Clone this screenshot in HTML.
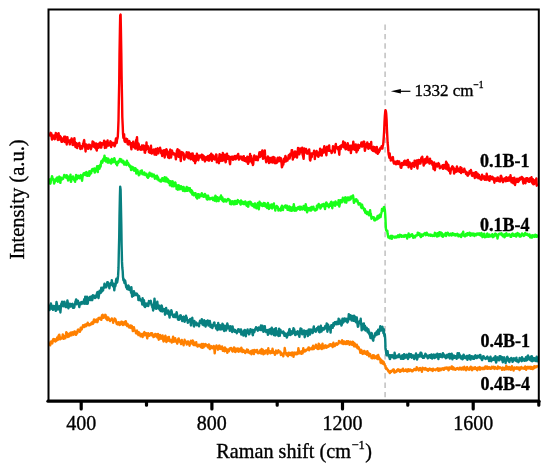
<!DOCTYPE html>
<html><head><meta charset="utf-8"><style>
html,body{margin:0;padding:0;background:#fff;}
body{width:550px;height:468px;overflow:hidden;}
svg{display:block;}
text{font-family:"Liberation Serif","Times New Roman",serif;fill:#000;stroke:#000;stroke-width:0.35px;}
.b{font-weight:bold;font-size:18px;}
</style></head><body>
<svg width="550" height="468" viewBox="0 0 550 468">
<rect width="550" height="468" fill="#fff"/>
<line x1="385.1" y1="24.5" x2="385.1" y2="398" stroke="#c4c4c4" stroke-width="1.6" stroke-dasharray="5.42 4"/>
<g fill="none" stroke-width="2.4" stroke-linejoin="round" stroke-linecap="round">
<path d="M49.5 134.7L49.9 135.4 50.2 134.1 50.6 132.8 50.9 133.6 51.3 133.3 51.6 136.6 52.0 139.6 52.3 135.9 52.7 135.4 53.0 138.3 53.4 138.6 53.7 137.6 54.1 135.5 54.4 137.8 54.8 139.2 55.1 135.1 55.5 135.6 55.8 133.0 56.2 133.6 56.5 133.6 56.9 136.9 57.2 136.2 57.6 139.5 57.9 140.0 58.3 138.0 58.6 133.2 59.0 137.2 59.3 139.6 59.7 139.4 60.0 136.0 60.4 137.5 60.7 136.9 61.1 138.0 61.4 141.7 61.8 138.4 62.1 139.8 62.5 141.7 62.8 138.7 63.2 139.2 63.5 139.9 63.9 139.2 64.2 136.6 64.6 139.8 64.9 142.1 65.3 136.8 65.6 140.8 66.0 139.9 66.3 139.0 66.7 144.5 67.0 141.9 67.4 137.2 67.7 139.7 68.1 141.3 68.4 140.3 68.8 141.9 69.1 141.1 69.5 143.1 69.8 144.4 70.2 140.3 70.5 141.1 70.9 140.4 71.2 141.0 71.6 138.5 71.9 139.7 72.3 141.7 72.6 144.9 73.0 145.0 73.3 139.4 73.7 140.4 74.0 143.0 74.4 138.2 74.7 141.0 75.1 143.6 75.4 147.0 75.8 146.0 76.1 143.4 76.5 143.0 76.8 144.4 77.2 148.1 77.5 144.5 77.9 144.3 78.2 146.0 78.6 145.3 78.9 144.5 79.3 142.9 79.6 145.0 80.0 145.5 80.3 149.0 80.7 148.2 81.0 146.7 81.4 147.5 81.7 146.1 82.1 148.5 82.4 146.9 82.8 146.9 83.1 143.4 83.5 145.4 83.8 141.1 84.2 140.1 84.5 143.9 84.9 143.9 85.2 147.4 85.6 151.5 85.9 145.2 86.3 144.6 86.6 147.0 87.0 147.9 87.3 146.4 87.7 146.6 88.0 148.8 88.4 148.1 88.7 144.7 89.1 146.4 89.4 146.7 89.8 144.8 90.1 146.8 90.5 145.7 90.8 149.2 91.2 148.2 91.5 147.1 91.9 145.6 92.2 145.4 92.6 141.4 92.9 143.3 93.3 146.1 93.6 142.3 94.0 146.9 94.3 143.3 94.7 147.2 95.0 145.4 95.4 148.2 95.7 146.5 96.1 143.4 96.4 149.4 96.8 150.5 97.1 146.6 97.5 145.3 97.8 144.9 98.2 143.9 98.5 147.7 98.9 144.9 99.2 144.7 99.6 143.2 99.9 142.8 100.3 142.5 100.6 147.6 101.0 146.0 101.3 147.5 101.7 145.3 102.0 143.1 102.4 143.5 102.7 143.3 103.1 144.4 103.4 143.7 103.8 143.1 104.1 140.7 104.5 142.8 104.8 148.0 105.2 143.3 105.5 141.9 105.9 145.7 106.2 147.6 106.6 141.7 106.9 143.1 107.3 142.2 107.6 140.5 108.0 145.7 108.3 145.2 108.7 144.6 109.0 143.3 109.4 145.3 109.7 143.7 110.1 143.6 110.4 141.3 110.8 141.8 111.1 147.0 111.5 144.1 111.8 144.9 112.2 144.2 112.5 142.8 112.9 142.9 113.2 145.1 113.6 143.3 113.9 143.1 114.3 144.0 114.6 146.4 115.0 145.3 115.3 143.5 115.7 140.2 116.0 138.4 116.4 143.1 116.7 142.9 117.1 139.4 117.4 138.8 117.8 136.5 118.1 130.9 118.5 120.3 118.8 102.7 119.2 82.2 119.5 54.2 119.9 31.0 120.2 15.4 120.6 14.5 120.9 29.0 121.3 52.5 121.6 75.7 122.0 97.1 122.3 117.0 122.7 125.4 123.0 133.3 123.4 138.0 123.7 134.1 124.1 134.1 124.4 140.4 124.8 141.6 125.1 141.4 125.5 141.9 125.8 139.8 126.2 138.7 126.5 141.5 126.9 140.0 127.2 139.2 127.6 144.0 127.9 144.2 128.3 144.4 128.6 141.5 129.0 141.5 129.3 141.0 129.7 141.8 130.0 144.1 130.4 143.0 130.7 145.4 131.1 146.9 131.4 149.4 131.8 143.1 132.1 146.5 132.5 145.5 132.8 144.5 133.2 141.6 133.5 144.0 133.9 147.2 134.2 145.9 134.6 145.8 134.9 145.8 135.3 148.6 135.6 145.4 136.0 140.3 136.3 142.3 136.7 139.4 137.0 137.1 137.4 144.2 137.7 149.7 138.1 146.9 138.4 143.5 138.8 144.6 139.1 149.4 139.5 148.2 139.8 147.4 140.2 147.2 140.5 147.9 140.9 149.8 141.2 149.5 141.6 147.9 141.9 145.5 142.3 148.1 142.6 147.0 143.0 149.6 143.3 145.4 143.7 147.1 144.0 147.4 144.4 145.9 144.7 152.6 145.1 152.7 145.4 148.5 145.8 150.4 146.1 148.5 146.5 142.5 146.8 147.9 147.2 148.8 147.5 148.5 147.9 146.2 148.2 147.7 148.6 149.1 148.9 152.2 149.3 150.7 149.6 150.3 150.0 152.9 150.3 148.7 150.7 147.3 151.0 145.8 151.4 153.1 151.7 153.5 152.1 153.0 152.4 152.2 152.8 150.8 153.1 150.6 153.5 149.6 153.8 149.7 154.2 151.2 154.5 154.6 154.9 152.7 155.2 150.5 155.6 149.0 155.9 149.8 156.3 154.8 156.6 153.2 157.0 151.4 157.3 149.8 157.7 148.3 158.0 151.1 158.4 153.3 158.7 150.9 159.1 150.7 159.4 151.0 159.8 151.0 160.1 147.8 160.5 149.9 160.8 150.1 161.2 153.3 161.5 150.9 161.9 153.9 162.2 156.0 162.6 151.9 162.9 150.6 163.3 152.4 163.6 151.9 164.0 150.1 164.3 154.1 164.7 157.5 165.0 152.8 165.4 151.3 165.7 150.0 166.1 152.2 166.4 149.2 166.8 150.0 167.1 154.8 167.5 151.8 167.8 155.8 168.2 157.4 168.5 154.7 168.9 155.5 169.2 158.1 169.6 153.3 169.9 150.9 170.3 149.6 170.6 153.4 171.0 157.5 171.3 156.0 171.7 151.2 172.0 150.6 172.4 152.0 172.7 154.0 173.1 153.4 173.4 154.3 173.8 154.5 174.1 153.3 174.5 153.8 174.8 154.4 175.2 154.2 175.5 156.3 175.9 159.4 176.2 156.8 176.6 153.9 176.9 150.5 177.3 153.5 177.6 149.2 178.0 150.5 178.3 156.4 178.7 156.8 179.0 153.9 179.4 150.4 179.7 152.7 180.1 153.4 180.4 157.5 180.8 161.1 181.1 156.5 181.5 152.8 181.8 152.0 182.2 154.5 182.5 154.4 182.9 152.6 183.2 154.6 183.6 153.4 183.9 158.4 184.3 159.6 184.6 158.8 185.0 155.6 185.3 156.9 185.7 155.8 186.0 154.9 186.4 154.4 186.7 152.1 187.1 152.4 187.4 157.4 187.8 156.5 188.1 157.4 188.5 158.2 188.8 152.4 189.2 153.9 189.5 156.9 189.9 157.6 190.2 156.6 190.6 159.3 190.9 157.3 191.3 153.6 191.6 154.5 192.0 158.8 192.3 157.7 192.7 153.5 193.0 159.9 193.4 160.2 193.7 160.8 194.1 157.0 194.4 156.0 194.8 156.0 195.1 163.2 195.5 159.4 195.8 161.2 196.2 157.1 196.5 157.0 196.9 153.6 197.2 156.6 197.6 159.5 197.9 156.0 198.3 160.2 198.6 158.9 199.0 155.4 199.3 156.1 199.7 156.7 200.0 157.5 200.4 156.4 200.7 155.7 201.1 156.5 201.4 154.9 201.8 154.6 202.1 158.0 202.5 159.7 202.8 155.1 203.2 157.3 203.5 156.3 203.9 156.2 204.2 159.8 204.6 158.5 204.9 161.5 205.3 157.6 205.6 159.0 206.0 157.8 206.3 156.9 206.7 159.6 207.0 158.9 207.4 160.1 207.7 158.3 208.1 156.0 208.4 157.9 208.8 159.3 209.1 160.7 209.5 157.0 209.8 157.3 210.2 154.9 210.5 159.0 210.9 155.6 211.2 153.8 211.6 158.4 211.9 160.8 212.3 155.1 212.6 155.0 213.0 155.9 213.3 156.0 213.7 158.9 214.0 156.8 214.4 157.1 214.7 159.6 215.1 157.6 215.4 159.1 215.8 156.2 216.1 154.5 216.5 154.8 216.8 162.4 217.2 159.3 217.5 159.4 217.9 159.1 218.2 159.4 218.6 160.2 218.9 163.2 219.3 156.6 219.6 154.1 220.0 155.0 220.3 155.6 220.7 160.6 221.0 160.9 221.4 156.3 221.7 154.9 222.1 158.1 222.4 160.7 222.8 153.0 223.1 158.2 223.5 157.2 223.8 160.4 224.2 156.7 224.5 156.9 224.9 154.6 225.2 156.5 225.6 162.3 225.9 161.5 226.3 158.0 226.6 155.6 227.0 153.6 227.3 157.0 227.7 158.7 228.0 158.7 228.4 158.1 228.7 156.1 229.1 158.2 229.4 159.5 229.8 163.1 230.1 164.2 230.5 159.2 230.8 157.0 231.2 158.1 231.5 157.1 231.9 156.8 232.2 157.9 232.6 156.7 232.9 159.9 233.3 159.2 233.6 159.5 234.0 158.3 234.3 156.6 234.7 156.1 235.0 157.6 235.4 157.7 235.7 159.3 236.1 158.4 236.4 155.7 236.8 157.8 237.1 155.5 237.5 156.7 237.8 157.0 238.2 153.9 238.5 158.4 238.9 159.6 239.2 158.7 239.6 158.0 239.9 157.7 240.3 156.6 240.6 157.9 241.0 158.0 241.3 158.8 241.7 156.7 242.0 159.6 242.4 160.0 242.7 159.1 243.1 158.8 243.4 159.9 243.8 156.1 244.1 160.1 244.5 160.8 244.8 160.9 245.2 160.6 245.5 158.3 245.9 159.3 246.2 161.6 246.6 161.5 246.9 160.0 247.3 156.7 247.6 161.2 248.0 163.8 248.3 163.3 248.7 160.4 249.0 156.9 249.4 161.6 249.7 159.0 250.1 154.0 250.4 159.0 250.8 156.0 251.1 155.9 251.5 158.6 251.8 162.7 252.2 159.9 252.5 161.3 252.9 165.1 253.2 164.4 253.6 159.9 253.9 158.0 254.3 155.5 254.6 156.7 255.0 159.6 255.3 159.7 255.7 159.3 256.0 160.1 256.4 156.4 256.7 157.5 257.1 159.5 257.4 159.6 257.8 160.2 258.1 158.3 258.5 156.4 258.8 156.9 259.2 153.4 259.5 152.3 259.9 157.0 260.2 156.8 260.6 156.3 260.9 152.3 261.3 154.4 261.6 154.4 262.0 152.9 262.3 150.4 262.7 155.1 263.0 158.9 263.4 157.8 263.7 155.4 264.1 156.8 264.4 157.2 264.8 150.4 265.1 155.4 265.5 158.6 265.8 159.9 266.2 162.2 266.5 161.0 266.9 158.7 267.2 158.6 267.6 159.1 267.9 156.4 268.3 157.5 268.6 160.8 269.0 163.0 269.3 158.5 269.7 158.0 270.0 159.5 270.4 162.0 270.7 160.3 271.1 162.2 271.4 157.7 271.8 158.6 272.1 159.7 272.5 162.6 272.8 162.6 273.2 156.9 273.5 157.9 273.9 160.9 274.2 158.8 274.6 157.6 274.9 163.2 275.3 163.2 275.6 162.4 276.0 160.7 276.3 163.1 276.7 161.3 277.0 162.7 277.4 158.3 277.7 157.8 278.1 159.7 278.4 158.6 278.8 161.2 279.1 160.1 279.5 157.4 279.8 159.0 280.2 159.2 280.5 161.3 280.9 158.3 281.2 159.0 281.6 163.8 281.9 167.3 282.3 166.4 282.6 161.7 283.0 162.0 283.3 164.6 283.7 160.9 284.0 158.6 284.4 161.1 284.7 161.9 285.1 158.5 285.4 155.9 285.8 156.9 286.1 161.2 286.5 158.8 286.8 159.4 287.2 160.4 287.5 160.6 287.9 158.5 288.2 158.8 288.6 155.6 288.9 155.4 289.3 154.7 289.6 158.6 290.0 156.2 290.3 153.7 290.7 154.0 291.0 154.6 291.4 155.3 291.7 150.1 292.1 150.2 292.4 153.3 292.8 159.6 293.1 156.4 293.5 153.1 293.8 155.0 294.2 157.3 294.5 152.2 294.9 151.4 295.2 154.9 295.6 154.0 295.9 153.5 296.3 152.0 296.6 157.3 297.0 157.6 297.3 154.8 297.7 153.1 298.0 148.0 298.4 152.7 298.7 152.5 299.1 153.8 299.4 154.3 299.8 151.3 300.1 148.5 300.5 152.4 300.8 151.0 301.2 151.3 301.5 151.1 301.9 150.6 302.2 147.8 302.6 155.0 302.9 155.0 303.3 157.2 303.6 158.8 304.0 153.5 304.3 148.5 304.7 149.7 305.0 149.8 305.4 151.7 305.7 152.5 306.1 149.0 306.4 152.7 306.8 150.4 307.1 153.7 307.5 153.6 307.8 153.0 308.2 153.3 308.5 152.2 308.9 151.3 309.2 149.5 309.6 154.0 309.9 159.6 310.3 160.6 310.6 158.7 311.0 156.1 311.3 153.4 311.7 157.1 312.0 154.5 312.4 153.6 312.7 153.2 313.1 153.7 313.4 152.8 313.8 152.8 314.1 150.8 314.5 153.4 314.8 159.1 315.2 154.6 315.5 153.3 315.9 155.1 316.2 155.0 316.6 151.0 316.9 152.8 317.3 155.7 317.6 154.6 318.0 154.6 318.3 156.8 318.7 152.4 319.0 152.7 319.4 152.6 319.7 155.4 320.1 148.6 320.4 150.0 320.8 151.5 321.1 154.5 321.5 155.3 321.8 155.6 322.2 149.8 322.5 153.3 322.9 151.7 323.2 150.7 323.6 152.6 323.9 148.9 324.3 146.1 324.6 149.0 325.0 147.5 325.3 149.4 325.7 152.2 326.0 153.2 326.4 155.2 326.7 150.7 327.1 146.7 327.4 147.7 327.8 147.5 328.1 147.4 328.5 150.7 328.8 148.1 329.2 145.5 329.5 150.9 329.9 150.5 330.2 151.0 330.6 150.8 330.9 151.6 331.3 151.0 331.6 153.1 332.0 151.7 332.3 151.1 332.7 150.1 333.0 146.1 333.4 148.2 333.7 148.8 334.1 149.0 334.4 146.9 334.8 152.6 335.1 149.6 335.5 145.2 335.8 144.0 336.2 147.3 336.5 148.1 336.9 147.1 337.2 148.3 337.6 147.5 337.9 149.3 338.3 147.1 338.6 148.6 339.0 152.2 339.3 154.7 339.7 147.0 340.0 146.2 340.4 146.3 340.7 149.0 341.1 145.4 341.4 146.2 341.8 147.1 342.1 145.0 342.5 144.7 342.8 145.0 343.2 141.5 343.5 142.7 343.9 145.9 344.2 147.6 344.6 146.1 344.9 142.7 345.3 145.7 345.6 149.3 346.0 149.0 346.3 146.8 346.7 145.2 347.0 147.8 347.4 145.3 347.7 143.3 348.1 145.1 348.4 150.1 348.8 148.7 349.1 149.5 349.5 146.6 349.8 148.4 350.2 145.6 350.5 147.2 350.9 153.1 351.2 149.5 351.6 145.7 351.9 146.2 352.3 147.9 352.6 149.4 353.0 145.0 353.3 141.7 353.7 144.8 354.0 146.3 354.4 147.4 354.7 149.8 355.1 148.3 355.4 147.9 355.8 144.5 356.1 149.0 356.5 152.3 356.8 149.4 357.2 147.3 357.5 147.7 357.9 150.2 358.2 144.7 358.6 145.6 358.9 147.5 359.3 147.9 359.6 145.5 360.0 146.3 360.3 145.4 360.7 145.8 361.0 144.7 361.4 142.5 361.7 145.0 362.1 146.6 362.4 142.6 362.8 143.6 363.1 145.1 363.5 141.7 363.8 143.1 364.2 141.7 364.5 146.9 364.9 150.8 365.2 149.5 365.6 144.4 365.9 145.3 366.3 144.4 366.6 145.0 367.0 147.3 367.3 142.4 367.7 146.5 368.0 146.0 368.4 148.7 368.7 146.2 369.1 144.2 369.4 146.6 369.8 148.1 370.1 147.1 370.5 147.6 370.8 144.7 371.2 142.0 371.5 148.8 371.9 149.9 372.2 148.7 372.6 148.9 372.9 150.7 373.3 147.7 373.6 146.8 374.0 148.9 374.3 151.4 374.7 147.3 375.0 151.5 375.4 148.2 375.7 147.5 376.1 152.6 376.4 150.0 376.8 146.9 377.1 149.4 377.5 153.3 377.8 153.8 378.2 150.4 378.5 151.8 378.9 152.3 379.2 149.5 379.6 150.8 379.9 149.8 380.3 148.0 380.6 147.7 381.0 148.6 381.3 148.0 381.7 146.1 382.0 146.3 382.4 148.6 382.7 146.1 383.1 144.9 383.4 142.0 383.8 136.7 384.1 131.9 384.5 122.2 384.8 116.7 385.2 111.8 385.5 110.3 385.9 111.3 386.2 113.6 386.6 119.6 386.9 128.5 387.3 136.5 387.6 142.7 388.0 146.5 388.3 151.2 388.7 154.5 389.0 155.7 389.4 157.7 389.7 153.4 390.1 158.0 390.4 157.1 390.8 160.5 391.1 159.0 391.5 157.9 391.8 160.0 392.2 158.1 392.5 157.4 392.9 157.0 393.2 160.3 393.6 162.5 393.9 163.5 394.3 162.0 394.6 163.6 395.0 162.1 395.3 161.8 395.7 163.5 396.0 164.3 396.4 161.7 396.7 161.4 397.1 161.8 397.4 162.0 397.8 161.0 398.1 164.1 398.5 162.4 398.8 163.1 399.2 161.5 399.5 163.5 399.9 163.8 400.2 163.4 400.6 167.5 400.9 165.9 401.3 167.9 401.6 166.3 402.0 162.9 402.3 163.3 402.7 165.2 403.0 164.9 403.4 164.8 403.7 163.5 404.1 161.1 404.4 162.9 404.8 160.6 405.1 164.6 405.5 163.5 405.8 163.3 406.2 164.5 406.5 165.0 406.9 161.5 407.2 160.4 407.6 161.2 407.9 160.0 408.3 162.9 408.6 167.4 409.0 163.8 409.3 165.3 409.7 162.5 410.0 164.8 410.4 164.3 410.7 164.8 411.1 166.7 411.4 168.7 411.8 165.9 412.1 164.5 412.5 162.9 412.8 165.2 413.2 164.5 413.5 165.9 413.9 165.3 414.2 166.8 414.6 160.6 414.9 162.9 415.3 165.4 415.6 163.1 416.0 161.7 416.3 161.9 416.7 160.4 417.0 163.8 417.4 168.5 417.7 165.7 418.1 160.4 418.4 159.9 418.8 161.4 419.1 163.6 419.5 160.4 419.8 160.4 420.2 163.6 420.5 163.6 420.9 160.7 421.2 158.4 421.6 157.4 421.9 158.3 422.3 156.7 422.6 161.5 423.0 160.4 423.3 162.6 423.7 165.6 424.0 163.7 424.4 159.5 424.7 162.7 425.1 163.4 425.4 159.6 425.8 158.7 426.1 159.8 426.5 158.5 426.8 162.5 427.2 156.6 427.5 158.1 427.9 160.5 428.2 161.3 428.6 162.3 428.9 162.6 429.3 162.4 429.6 163.6 430.0 158.6 430.3 161.3 430.7 161.3 431.0 162.9 431.4 163.1 431.7 161.2 432.1 162.0 432.4 165.0 432.8 164.5 433.1 163.5 433.5 168.9 433.8 169.1 434.2 162.5 434.5 165.6 434.9 170.2 435.2 167.5 435.6 165.6 435.9 164.4 436.3 163.8 436.6 164.3 437.0 164.5 437.3 166.6 437.7 164.9 438.0 164.1 438.4 163.1 438.7 164.9 439.1 164.1 439.4 165.8 439.8 168.3 440.1 167.6 440.5 167.6 440.8 167.3 441.2 166.6 441.5 166.1 441.9 166.2 442.2 167.5 442.6 165.3 442.9 168.9 443.3 167.0 443.6 165.0 444.0 165.2 444.3 165.3 444.7 166.6 445.0 166.0 445.4 168.6 445.7 164.9 446.1 161.8 446.4 163.8 446.8 162.8 447.1 166.7 447.5 169.6 447.8 168.4 448.2 164.6 448.5 166.1 448.9 170.8 449.2 168.9 449.6 168.2 449.9 170.8 450.3 173.6 450.6 171.5 451.0 168.9 451.3 169.1 451.7 169.4 452.0 167.0 452.4 166.2 452.7 168.0 453.1 167.0 453.4 168.6 453.8 170.3 454.1 173.6 454.5 168.8 454.8 169.0 455.2 169.6 455.5 171.1 455.9 172.0 456.2 169.2 456.6 167.8 456.9 166.5 457.3 168.2 457.6 171.2 458.0 170.5 458.3 168.7 458.7 169.7 459.0 171.0 459.4 171.7 459.7 170.1 460.1 169.8 460.4 167.3 460.8 169.1 461.1 173.1 461.5 168.0 461.8 170.2 462.2 171.8 462.5 170.8 462.9 170.1 463.2 171.4 463.6 171.9 463.9 171.1 464.3 168.6 464.6 170.8 465.0 170.4 465.3 171.0 465.7 172.7 466.0 173.9 466.4 174.1 466.7 172.3 467.1 174.5 467.4 175.5 467.8 175.7 468.1 175.6 468.5 173.1 468.8 172.9 469.2 173.9 469.5 171.1 469.9 172.9 470.2 172.3 470.6 171.9 470.9 170.0 471.3 171.4 471.6 173.7 472.0 175.7 472.3 176.0 472.7 174.3 473.0 173.6 473.4 173.0 473.7 174.8 474.1 174.6 474.4 176.3 474.8 178.0 475.1 175.0 475.5 172.3 475.8 172.7 476.2 172.2 476.5 173.4 476.9 177.4 477.2 176.0 477.6 173.7 477.9 176.9 478.3 178.2 478.6 175.8 479.0 174.9 479.3 175.7 479.7 177.0 480.0 178.1 480.4 179.2 480.7 179.5 481.1 179.6 481.4 179.7 481.8 178.0 482.1 174.7 482.5 176.5 482.8 177.5 483.2 177.0 483.5 178.5 483.9 176.8 484.2 176.3 484.6 179.7 484.9 179.2 485.3 178.5 485.6 179.6 486.0 179.9 486.3 177.8 486.7 173.7 487.0 175.8 487.4 176.6 487.7 176.3 488.1 178.4 488.4 179.9 488.8 177.3 489.1 176.8 489.5 180.9 489.8 177.7 490.2 176.1 490.5 178.3 490.9 178.8 491.2 177.5 491.6 179.1 491.9 177.5 492.3 176.7 492.6 178.6 493.0 179.4 493.3 177.7 493.7 178.6 494.0 179.3 494.4 182.7 494.7 178.7 495.1 180.4 495.4 178.8 495.8 178.5 496.1 179.9 496.5 180.6 496.8 180.9 497.2 179.2 497.5 177.4 497.9 177.6 498.2 179.3 498.6 180.1 498.9 181.1 499.3 180.1 499.6 181.0 500.0 181.5 500.3 178.9 500.7 175.9 501.0 175.7 501.4 176.5 501.7 180.5 502.1 178.4 502.4 180.7 502.8 180.8 503.1 182.2 503.5 181.1 503.8 179.0 504.2 178.6 504.5 179.1 504.9 179.2 505.2 178.3 505.6 179.4 505.9 181.2 506.3 177.1 506.6 178.7 507.0 178.0 507.3 179.6 507.7 180.8 508.0 179.9 508.4 180.1 508.7 177.5 509.1 180.5 509.4 179.2 509.8 180.4 510.1 179.2 510.5 175.3 510.8 177.6 511.2 180.3 511.5 182.4 511.9 180.9 512.2 179.8 512.6 178.2 512.9 182.3 513.3 183.3 513.6 180.6 514.0 179.1 514.3 177.6 514.7 181.9 515.0 185.0 515.4 182.7 515.7 182.6 516.1 181.2 516.4 179.3 516.8 181.7 517.1 178.7 517.5 179.6 517.8 181.0 518.2 182.0 518.5 181.5 518.9 180.9 519.2 178.9 519.6 178.1 519.9 179.9 520.3 178.9 520.6 177.7 521.0 177.9 521.3 178.7 521.7 176.9 522.0 177.2 522.4 177.6 522.7 180.5 523.1 182.0 523.4 183.5 523.8 178.7 524.1 179.4 524.5 181.8 524.8 180.5 525.2 180.7 525.5 183.2 525.9 180.4 526.2 178.3 526.6 178.3 526.9 180.9 527.3 180.9 527.6 178.3 528.0 178.9 528.3 181.5 528.7 181.7 529.0 180.2 529.4 181.8 529.7 181.4 530.1 178.1 530.4 179.9 530.8 181.3 531.1 179.5 531.5 177.3 531.8 180.1 532.2 182.8 532.5 183.2 532.9 179.1 533.2 184.3 533.6 180.7 533.9 182.9 534.3 184.0 534.6 183.5 535.0 181.7 535.3 179.9 535.7 182.0 536.0 179.8 536.4 178.4 536.7 185.7 537.1 184.6 537.4 185.1" stroke="#ff0000"/>
<path d="M49.5 179.4L49.9 182.8 50.2 183.7 50.6 183.2 50.9 180.4 51.3 178.4 51.6 178.9 52.0 176.3 52.3 177.0 52.7 179.6 53.0 178.8 53.4 179.7 53.7 180.7 54.1 183.6 54.4 182.8 54.8 180.9 55.1 181.6 55.5 179.1 55.8 179.5 56.2 180.7 56.5 178.1 56.9 178.4 57.2 177.5 57.6 179.8 57.9 181.7 58.3 178.8 58.6 179.1 59.0 177.5 59.3 176.6 59.7 177.2 60.0 181.4 60.4 182.9 60.7 179.9 61.1 177.8 61.4 179.1 61.8 178.3 62.1 179.4 62.5 178.9 62.8 178.8 63.2 178.8 63.5 177.1 63.9 176.5 64.2 174.9 64.6 176.1 64.9 175.4 65.3 176.7 65.6 176.2 66.0 177.6 66.3 177.8 66.7 175.3 67.0 175.5 67.4 176.1 67.7 178.9 68.1 180.6 68.4 179.3 68.8 177.8 69.1 179.3 69.5 176.4 69.8 179.5 70.2 176.6 70.5 174.6 70.9 181.9 71.2 181.3 71.6 177.5 71.9 178.5 72.3 178.5 72.6 178.4 73.0 176.4 73.3 177.4 73.7 179.3 74.0 179.6 74.4 180.6 74.7 179.8 75.1 181.8 75.4 178.1 75.8 177.8 76.1 174.9 76.5 175.9 76.8 179.2 77.2 177.0 77.5 178.1 77.9 177.3 78.2 175.7 78.6 176.3 78.9 176.2 79.3 176.4 79.6 178.2 80.0 177.9 80.3 175.8 80.7 175.1 81.0 176.6 81.4 176.6 81.7 178.6 82.1 180.7 82.4 178.0 82.8 175.9 83.1 175.0 83.5 173.7 83.8 173.2 84.2 173.0 84.5 173.6 84.9 173.9 85.2 175.0 85.6 173.5 85.9 172.8 86.3 172.0 86.6 175.4 87.0 174.8 87.3 175.8 87.7 174.8 88.0 174.7 88.4 172.5 88.7 173.9 89.1 175.8 89.4 171.1 89.8 173.5 90.1 174.6 90.5 172.8 90.8 172.9 91.2 173.1 91.5 170.5 91.9 171.0 92.2 169.3 92.6 169.0 92.9 169.2 93.3 169.9 93.6 170.5 94.0 170.2 94.3 168.4 94.7 172.6 95.0 172.1 95.4 170.6 95.7 168.7 96.1 168.8 96.4 169.6 96.8 168.7 97.1 166.1 97.5 169.7 97.8 172.1 98.2 166.2 98.5 168.6 98.9 168.3 99.2 167.6 99.6 168.7 99.9 165.3 100.3 166.1 100.6 166.6 101.0 163.0 101.3 161.2 101.7 161.2 102.0 160.9 102.4 162.7 102.7 159.9 103.1 160.9 103.4 158.6 103.8 160.5 104.1 158.9 104.5 155.6 104.8 158.4 105.2 157.8 105.5 159.1 105.9 161.5 106.2 158.1 106.6 158.2 106.9 161.7 107.3 161.0 107.6 162.5 108.0 160.7 108.3 158.8 108.7 160.2 109.0 162.5 109.4 162.2 109.7 160.8 110.1 160.6 110.4 160.3 110.8 160.4 111.1 163.6 111.5 161.1 111.8 159.0 112.2 160.1 112.5 162.2 112.9 162.3 113.2 160.9 113.6 160.1 113.9 160.5 114.3 158.2 114.6 159.0 115.0 162.0 115.3 161.1 115.7 162.3 116.0 163.8 116.4 163.0 116.7 162.6 117.1 165.2 117.4 163.3 117.8 161.7 118.1 163.0 118.5 162.5 118.8 160.7 119.2 161.7 119.5 161.1 119.9 158.9 120.2 161.1 120.6 161.5 120.9 160.9 121.3 159.5 121.6 161.2 122.0 162.3 122.3 162.2 122.7 161.0 123.0 162.8 123.4 160.9 123.7 162.5 124.1 164.6 124.4 162.2 124.8 162.4 125.1 164.6 125.5 163.0 125.8 163.0 126.2 164.4 126.5 165.0 126.9 160.8 127.2 162.1 127.6 162.5 127.9 162.7 128.3 163.3 128.6 164.0 129.0 165.7 129.3 164.8 129.7 166.4 130.0 167.0 130.4 165.9 130.7 167.6 131.1 170.0 131.4 168.4 131.8 166.9 132.1 167.4 132.5 166.9 132.8 168.9 133.2 169.8 133.5 167.8 133.9 168.9 134.2 170.8 134.6 169.2 134.9 169.6 135.3 168.2 135.6 168.4 136.0 170.0 136.3 173.6 136.7 170.7 137.0 169.9 137.4 170.1 137.7 171.2 138.1 172.6 138.4 172.9 138.8 175.2 139.1 173.6 139.5 174.7 139.8 173.6 140.2 173.3 140.5 170.9 140.9 172.4 141.2 173.0 141.6 172.3 141.9 170.5 142.3 174.2 142.6 173.4 143.0 173.2 143.3 173.6 143.7 174.0 144.0 174.6 144.4 172.5 144.7 173.0 145.1 175.0 145.4 175.1 145.8 174.3 146.1 173.9 146.5 173.8 146.8 175.4 147.2 176.9 147.5 174.9 147.9 177.9 148.2 177.4 148.6 175.7 148.9 176.5 149.3 173.5 149.6 172.7 150.0 173.6 150.3 175.2 150.7 175.7 151.0 175.7 151.4 176.0 151.7 173.7 152.1 176.5 152.4 174.7 152.8 175.5 153.1 175.9 153.5 174.9 153.8 174.5 154.2 175.4 154.5 177.4 154.9 178.7 155.2 178.4 155.6 176.2 155.9 176.0 156.3 176.4 156.6 177.8 157.0 175.6 157.3 179.3 157.7 177.7 158.0 177.2 158.4 179.1 158.7 180.4 159.1 179.9 159.4 180.6 159.8 179.9 160.1 181.3 160.5 181.4 160.8 180.0 161.2 181.6 161.5 180.2 161.9 179.5 162.2 178.2 162.6 179.3 162.9 180.6 163.3 178.5 163.6 180.8 164.0 181.1 164.3 180.2 164.7 177.2 165.0 180.0 165.4 181.4 165.7 179.9 166.1 180.1 166.4 177.7 166.8 181.3 167.1 180.9 167.5 182.0 167.8 179.3 168.2 182.1 168.5 182.0 168.9 182.9 169.2 180.8 169.6 181.8 169.9 185.4 170.3 181.8 170.6 181.3 171.0 181.9 171.3 181.8 171.7 185.3 172.0 186.2 172.4 182.5 172.7 181.3 173.1 185.5 173.4 186.4 173.8 186.3 174.1 186.2 174.5 183.7 174.8 183.9 175.2 182.4 175.5 182.9 175.9 186.2 176.2 185.6 176.6 189.1 176.9 186.6 177.3 185.5 177.6 187.9 178.0 189.7 178.3 187.6 178.7 185.3 179.0 187.7 179.4 189.3 179.7 186.8 180.1 186.5 180.4 189.0 180.8 188.0 181.1 186.2 181.5 186.9 181.8 187.1 182.2 188.7 182.5 189.2 182.9 190.7 183.2 189.8 183.6 187.0 183.9 189.5 184.3 190.9 184.6 190.7 185.0 191.1 185.3 188.8 185.7 188.5 186.0 190.7 186.4 188.0 186.7 186.9 187.1 190.9 187.4 189.6 187.8 189.4 188.1 188.1 188.5 188.0 188.8 188.7 189.2 190.3 189.5 191.0 189.9 188.3 190.2 191.6 190.6 189.8 190.9 190.1 191.3 192.7 191.6 191.8 192.0 190.6 192.3 194.6 192.7 192.1 193.0 193.1 193.4 193.9 193.7 195.3 194.1 193.5 194.4 194.7 194.8 193.3 195.1 195.2 195.5 193.2 195.8 194.1 196.2 197.3 196.5 195.7 196.9 195.8 197.2 198.5 197.6 196.1 197.9 194.3 198.3 195.8 198.6 194.2 199.0 197.3 199.3 197.6 199.7 195.0 200.0 194.7 200.4 195.9 200.7 195.7 201.1 194.7 201.4 196.0 201.8 193.1 202.1 194.8 202.5 195.4 202.8 195.9 203.2 196.4 203.5 194.9 203.9 196.9 204.2 196.2 204.6 195.1 204.9 194.0 205.3 194.6 205.6 196.6 206.0 195.4 206.3 196.9 206.7 198.8 207.0 199.3 207.4 199.6 207.7 196.7 208.1 195.6 208.4 198.4 208.8 198.3 209.1 198.9 209.5 197.9 209.8 199.3 210.2 199.2 210.5 198.8 210.9 198.4 211.2 198.2 211.6 197.9 211.9 198.2 212.3 198.9 212.6 197.6 213.0 200.0 213.3 198.3 213.7 199.1 214.0 197.8 214.4 198.0 214.7 200.7 215.1 197.6 215.4 195.6 215.8 196.3 216.1 197.9 216.5 201.3 216.8 199.4 217.2 199.3 217.5 197.1 217.9 198.7 218.2 200.0 218.6 201.1 218.9 198.1 219.3 199.3 219.6 198.9 220.0 197.2 220.3 198.2 220.7 197.6 221.0 195.4 221.4 199.2 221.7 199.8 222.1 198.1 222.4 197.4 222.8 201.1 223.1 200.5 223.5 201.4 223.8 201.7 224.2 199.4 224.5 200.5 224.9 199.5 225.2 199.5 225.6 199.6 225.9 200.2 226.3 201.6 226.6 200.5 227.0 199.8 227.3 199.8 227.7 200.3 228.0 198.9 228.4 199.3 228.7 200.0 229.1 199.6 229.4 200.0 229.8 200.3 230.1 204.0 230.5 203.6 230.8 202.0 231.2 201.7 231.5 204.4 231.9 202.3 232.2 201.2 232.6 201.8 232.9 202.3 233.3 203.6 233.6 202.5 234.0 204.4 234.3 201.1 234.7 202.1 235.0 201.0 235.4 204.1 235.7 201.9 236.1 202.0 236.4 203.8 236.8 203.9 237.1 200.7 237.5 200.8 237.8 200.1 238.2 202.0 238.5 202.2 238.9 201.7 239.2 201.2 239.6 201.5 239.9 201.6 240.3 203.8 240.6 204.6 241.0 200.4 241.3 202.0 241.7 202.5 242.0 203.4 242.4 201.8 242.7 202.3 243.1 201.9 243.4 204.1 243.8 203.7 244.1 203.4 244.5 204.0 244.8 202.8 245.2 201.4 245.5 204.2 245.9 204.4 246.2 204.0 246.6 205.7 246.9 205.8 247.3 202.5 247.6 203.0 248.0 206.7 248.3 206.6 248.7 203.2 249.0 202.0 249.4 202.8 249.7 202.9 250.1 201.8 250.4 203.5 250.8 202.1 251.1 202.6 251.5 205.3 251.8 203.8 252.2 204.5 252.5 205.8 252.9 206.0 253.2 204.5 253.6 204.4 253.9 204.1 254.3 207.4 254.6 206.0 255.0 203.4 255.3 204.8 255.7 206.1 256.0 206.5 256.4 208.3 256.7 207.5 257.1 204.6 257.4 204.3 257.8 203.1 258.1 205.1 258.5 206.3 258.8 209.3 259.2 205.5 259.5 201.8 259.9 203.5 260.2 204.7 260.6 203.0 260.9 203.4 261.3 204.5 261.6 205.6 262.0 204.9 262.3 204.2 262.7 206.1 263.0 204.6 263.4 204.0 263.7 202.9 264.1 204.0 264.4 205.7 264.8 203.2 265.1 205.1 265.5 206.5 265.8 205.3 266.2 205.5 266.5 204.5 266.9 207.7 267.2 207.9 267.6 205.9 267.9 202.9 268.3 204.0 268.6 207.6 269.0 208.9 269.3 207.4 269.7 207.8 270.0 205.5 270.4 205.7 270.7 206.3 271.1 206.5 271.4 204.5 271.8 207.9 272.1 208.5 272.5 204.9 272.8 204.4 273.2 206.7 273.5 205.3 273.9 203.5 274.2 207.6 274.6 207.5 274.9 207.3 275.3 210.5 275.6 208.1 276.0 206.4 276.3 207.2 276.7 205.9 277.0 206.3 277.4 207.9 277.7 207.0 278.1 207.6 278.4 210.6 278.8 210.1 279.1 209.6 279.5 209.2 279.8 209.4 280.2 210.4 280.5 209.0 280.9 210.5 281.2 207.1 281.6 206.8 281.9 205.7 282.3 207.2 282.6 209.1 283.0 210.1 283.3 207.4 283.7 207.6 284.0 207.2 284.4 206.3 284.7 205.9 285.1 207.1 285.4 205.4 285.8 207.5 286.1 207.8 286.5 206.6 286.8 205.7 287.2 206.1 287.5 209.9 287.9 207.0 288.2 210.0 288.6 209.2 288.9 207.2 289.3 206.4 289.6 209.7 290.0 210.6 290.3 206.9 290.7 207.5 291.0 209.5 291.4 209.4 291.7 210.9 292.1 207.9 292.4 208.1 292.8 206.9 293.1 210.4 293.5 206.8 293.8 204.3 294.2 206.9 294.5 208.3 294.9 210.7 295.2 208.0 295.6 208.0 295.9 209.3 296.3 210.5 296.6 208.7 297.0 209.6 297.3 208.9 297.7 207.6 298.0 207.9 298.4 207.7 298.7 206.9 299.1 209.0 299.4 206.6 299.8 209.5 300.1 209.7 300.5 207.8 300.8 206.6 301.2 207.5 301.5 208.8 301.9 209.3 302.2 209.0 302.6 209.4 302.9 207.6 303.3 207.7 303.6 206.0 304.0 208.8 304.3 208.5 304.7 208.0 305.0 210.1 305.4 208.7 305.7 204.2 306.1 207.0 306.4 206.5 306.8 210.3 307.1 212.3 307.5 208.4 307.8 208.3 308.2 208.2 308.5 209.1 308.9 210.0 309.2 210.3 309.6 207.9 309.9 210.3 310.3 207.7 310.6 209.0 311.0 210.6 311.3 209.6 311.7 207.0 312.0 206.9 312.4 207.4 312.7 208.5 313.1 209.6 313.4 206.8 313.8 208.6 314.1 209.3 314.5 209.2 314.8 209.3 315.2 210.5 315.5 209.3 315.9 209.4 316.2 209.4 316.6 209.9 316.9 205.6 317.3 208.7 317.6 207.3 318.0 206.5 318.3 205.1 318.7 203.9 319.0 205.7 319.4 206.0 319.7 207.0 320.1 205.3 320.4 208.6 320.8 207.6 321.1 206.2 321.5 205.2 321.8 204.8 322.2 204.4 322.5 205.3 322.9 206.2 323.2 205.6 323.6 204.0 323.9 205.1 324.3 204.8 324.6 206.7 325.0 209.1 325.3 207.4 325.7 205.1 326.0 202.8 326.4 202.5 326.7 202.9 327.1 205.9 327.4 204.7 327.8 205.1 328.1 204.5 328.5 205.7 328.8 207.2 329.2 204.5 329.5 204.1 329.9 204.0 330.2 205.7 330.6 203.2 330.9 202.3 331.3 201.8 331.6 202.2 332.0 205.6 332.3 208.2 332.7 204.0 333.0 205.5 333.4 204.5 333.7 202.4 334.1 203.1 334.4 203.2 334.8 203.3 335.1 205.8 335.5 201.4 335.8 203.6 336.2 203.8 336.5 202.6 336.9 203.5 337.2 204.5 337.6 203.6 337.9 203.7 338.3 203.2 338.6 200.2 339.0 204.8 339.3 206.6 339.7 204.8 340.0 203.5 340.4 200.1 340.7 200.9 341.1 200.2 341.4 200.7 341.8 202.4 342.1 200.2 342.5 199.9 342.8 197.8 343.2 199.8 343.5 200.3 343.9 199.0 344.2 199.4 344.6 202.2 344.9 198.2 345.3 197.3 345.6 198.2 346.0 201.5 346.3 202.7 346.7 199.8 347.0 197.6 347.4 197.9 347.7 199.4 348.1 197.5 348.4 200.2 348.8 200.3 349.1 198.3 349.5 198.6 349.8 199.2 350.2 199.6 350.5 196.6 350.9 198.8 351.2 197.1 351.6 196.5 351.9 197.7 352.3 197.5 352.6 196.2 353.0 195.4 353.3 197.2 353.7 201.5 354.0 202.9 354.4 201.5 354.7 201.7 355.1 199.7 355.4 200.3 355.8 200.8 356.1 199.2 356.5 199.5 356.8 201.4 357.2 201.1 357.5 200.6 357.9 202.6 358.2 202.8 358.6 204.5 358.9 203.6 359.3 203.3 359.6 204.0 360.0 203.9 360.3 203.5 360.7 204.6 361.0 206.8 361.4 207.7 361.7 208.1 362.1 204.7 362.4 206.2 362.8 207.2 363.1 208.2 363.5 207.9 363.8 208.4 364.2 210.6 364.5 210.1 364.9 209.1 365.2 212.7 365.6 212.9 365.9 211.3 366.3 212.8 366.6 211.9 367.0 214.1 367.3 212.9 367.7 212.1 368.0 212.8 368.4 213.0 368.7 214.7 369.1 215.3 369.4 215.2 369.8 213.5 370.1 210.1 370.5 214.5 370.8 213.7 371.2 216.8 371.5 218.9 371.9 217.9 372.2 217.0 372.6 217.4 372.9 217.7 373.3 217.3 373.6 217.2 374.0 217.5 374.3 220.4 374.7 219.6 375.0 220.4 375.4 218.9 375.7 218.8 376.1 218.5 376.4 219.3 376.8 219.5 377.1 218.1 377.5 216.1 377.8 216.0 378.2 218.6 378.5 216.1 378.9 215.6 379.2 217.8 379.6 217.2 379.9 215.4 380.3 214.2 380.6 217.0 381.0 214.4 381.3 213.3 381.7 211.4 382.0 208.9 382.4 208.7 382.7 210.8 383.1 210.7 383.4 209.1 383.8 207.2 384.1 207.0 384.5 208.9 384.8 209.4 385.2 214.0 385.5 219.6 385.9 228.7 386.2 230.4 386.6 230.7 386.9 231.4 387.3 230.6 387.6 233.8 388.0 235.7 388.3 237.4 388.7 237.6 389.0 237.6 389.4 237.3 389.7 237.9 390.1 238.3 390.4 236.1 390.8 236.0 391.1 235.8 391.5 238.6 391.8 238.8 392.2 237.8 392.5 236.0 392.9 236.9 393.2 236.8 393.6 237.0 393.9 236.9 394.3 237.3 394.6 236.8 395.0 237.7 395.3 237.2 395.7 236.6 396.0 236.5 396.4 236.5 396.7 237.4 397.1 236.7 397.4 236.9 397.8 236.0 398.1 235.3 398.5 237.0 398.8 235.9 399.2 237.1 399.5 236.7 399.9 234.7 400.2 235.1 400.6 235.6 400.9 235.3 401.3 235.2 401.6 236.8 402.0 236.4 402.3 236.6 402.7 236.0 403.0 236.4 403.4 235.6 403.7 236.2 404.1 236.8 404.4 236.3 404.8 235.5 405.1 235.0 405.5 236.1 405.8 236.4 406.2 235.7 406.5 235.3 406.9 236.9 407.2 238.5 407.6 236.3 407.9 236.3 408.3 235.8 408.6 233.4 409.0 235.3 409.3 235.5 409.7 237.0 410.0 235.7 410.4 234.9 410.7 235.4 411.1 235.7 411.4 235.2 411.8 235.2 412.1 234.2 412.5 235.2 412.8 236.7 413.2 237.8 413.5 236.7 413.9 236.1 414.2 236.9 414.6 237.0 414.9 237.5 415.3 236.7 415.6 235.5 416.0 235.5 416.3 235.5 416.7 235.6 417.0 235.3 417.4 234.0 417.7 232.7 418.1 233.5 418.4 232.9 418.8 234.7 419.1 234.7 419.5 233.5 419.8 235.5 420.2 236.0 420.5 235.6 420.9 237.1 421.2 236.9 421.6 234.4 421.9 235.8 422.3 235.7 422.6 235.6 423.0 235.8 423.3 234.2 423.7 234.0 424.0 233.8 424.4 233.9 424.7 234.3 425.1 233.1 425.4 233.6 425.8 235.2 426.1 234.9 426.5 234.8 426.8 232.8 427.2 233.5 427.5 234.0 427.9 234.5 428.2 234.4 428.6 235.5 428.9 234.9 429.3 234.7 429.6 234.9 430.0 235.3 430.3 234.6 430.7 235.8 431.0 235.4 431.4 234.9 431.7 234.8 432.1 235.4 432.4 236.0 432.8 235.9 433.1 235.4 433.5 235.6 433.8 235.2 434.2 235.9 434.5 234.4 434.9 232.8 435.2 235.5 435.6 234.7 435.9 233.4 436.3 233.9 436.6 234.1 437.0 236.6 437.3 235.2 437.7 233.2 438.0 234.7 438.4 234.7 438.7 236.1 439.1 233.4 439.4 232.1 439.8 234.0 440.1 234.1 440.5 233.6 440.8 232.4 441.2 234.8 441.5 235.9 441.9 233.2 442.2 235.1 442.6 234.7 442.9 236.8 443.3 235.4 443.6 234.6 444.0 235.7 444.3 235.1 444.7 234.2 445.0 235.0 445.4 233.8 445.7 233.0 446.1 236.1 446.4 234.5 446.8 233.9 447.1 234.4 447.5 232.7 447.8 232.7 448.2 233.6 448.5 233.9 448.9 234.7 449.2 235.5 449.6 234.4 449.9 235.0 450.3 235.0 450.6 233.6 451.0 234.3 451.3 233.8 451.7 235.5 452.0 235.2 452.4 234.3 452.7 233.2 453.1 234.2 453.4 233.9 453.8 235.0 454.1 234.4 454.5 233.9 454.8 235.4 455.2 235.3 455.5 234.3 455.9 235.5 456.2 234.4 456.6 234.2 456.9 234.4 457.3 233.7 457.6 233.9 458.0 234.6 458.3 236.3 458.7 236.3 459.0 234.9 459.4 236.0 459.7 234.9 460.1 235.1 460.4 235.5 460.8 235.5 461.1 237.0 461.5 235.0 461.8 233.6 462.2 235.5 462.5 234.3 462.9 233.5 463.2 231.7 463.6 235.0 463.9 235.7 464.3 235.7 464.6 236.0 465.0 236.4 465.3 235.0 465.7 235.3 466.0 233.9 466.4 234.2 466.7 235.6 467.1 234.8 467.4 233.3 467.8 234.5 468.1 234.2 468.5 233.7 468.8 234.7 469.2 233.9 469.5 232.6 469.9 233.4 470.2 235.7 470.6 233.4 470.9 234.5 471.3 235.3 471.6 235.0 472.0 233.4 472.3 234.0 472.7 234.8 473.0 235.2 473.4 233.8 473.7 233.5 474.1 235.5 474.4 236.0 474.8 235.0 475.1 234.1 475.5 234.9 475.8 235.0 476.2 235.2 476.5 233.6 476.9 234.4 477.2 234.3 477.6 233.5 477.9 234.6 478.3 234.6 478.6 234.3 479.0 234.7 479.3 233.3 479.7 234.4 480.0 235.2 480.4 235.3 480.7 235.6 481.1 233.4 481.4 233.0 481.8 234.8 482.1 235.7 482.5 237.1 482.8 235.7 483.2 234.2 483.5 235.2 483.9 233.8 484.2 233.7 484.6 237.2 484.9 235.9 485.3 235.8 485.6 236.0 486.0 236.9 486.3 235.8 486.7 235.9 487.0 233.8 487.4 233.6 487.7 236.4 488.1 236.8 488.4 235.8 488.8 235.3 489.1 235.0 489.5 234.6 489.8 236.5 490.2 236.1 490.5 235.7 490.9 235.7 491.2 236.2 491.6 235.9 491.9 235.6 492.3 234.1 492.6 235.7 493.0 237.2 493.3 234.9 493.7 235.0 494.0 236.1 494.4 236.3 494.7 235.5 495.1 233.7 495.4 234.9 495.8 233.8 496.1 234.1 496.5 235.4 496.8 235.0 497.2 236.5 497.5 238.5 497.9 236.7 498.2 235.8 498.6 234.2 498.9 234.0 499.3 233.8 499.6 234.1 500.0 233.7 500.3 234.1 500.7 234.5 501.0 233.7 501.4 233.2 501.7 233.5 502.1 235.3 502.4 235.5 502.8 236.3 503.1 236.3 503.5 235.1 503.8 235.4 504.2 234.3 504.5 237.3 504.9 236.7 505.2 234.9 505.6 234.0 505.9 234.8 506.3 233.2 506.6 234.1 507.0 235.7 507.3 235.2 507.7 234.9 508.0 235.7 508.4 234.4 508.7 235.1 509.1 234.5 509.4 234.3 509.8 235.2 510.1 234.7 510.5 236.7 510.8 235.4 511.2 236.8 511.5 234.6 511.9 235.3 512.2 233.8 512.6 233.6 512.9 235.2 513.3 235.6 513.6 234.3 514.0 235.9 514.3 234.7 514.7 235.2 515.0 235.7 515.4 235.5 515.7 233.9 516.1 236.6 516.4 236.0 516.8 234.7 517.1 233.7 517.5 233.0 517.8 233.6 518.2 235.4 518.5 234.8 518.9 233.9 519.2 234.8 519.6 236.6 519.9 235.1 520.3 234.9 520.6 236.6 521.0 236.0 521.3 235.3 521.7 234.4 522.0 233.4 522.4 233.7 522.7 234.5 523.1 235.1 523.4 235.8 523.8 236.0 524.1 235.7 524.5 235.4 524.8 234.0 525.2 232.9 525.5 234.2 525.9 234.2 526.2 234.5 526.6 234.7 526.9 233.9 527.3 234.0 527.6 235.1 528.0 235.4 528.3 235.0 528.7 235.8 529.0 235.2 529.4 234.4 529.7 235.7 530.1 237.3 530.4 235.5 530.8 236.9 531.1 237.5 531.5 237.2 531.8 235.5 532.2 237.5 532.5 236.1 532.9 235.3 533.2 235.5 533.6 236.2 533.9 235.8 534.3 235.8 534.6 236.8 535.0 235.0 535.3 234.7 535.7 236.4 536.0 236.8 536.4 236.8 536.7 235.1 537.1 236.7 537.4 236.5" stroke="#19ff19"/>
<path d="M49.5 310.1L49.9 305.5 50.2 306.9 50.6 305.9 50.9 303.4 51.3 305.4 51.6 308.7 52.0 306.2 52.3 305.7 52.7 308.8 53.0 309.8 53.4 309.1 53.7 305.9 54.1 307.1 54.4 309.0 54.8 306.2 55.1 306.1 55.5 309.7 55.8 310.9 56.2 305.3 56.5 301.9 56.9 303.8 57.2 305.7 57.6 308.0 57.9 309.6 58.3 308.1 58.6 307.0 59.0 307.8 59.3 306.1 59.7 306.9 60.0 307.2 60.4 312.5 60.7 309.1 61.1 304.6 61.4 303.5 61.8 303.7 62.1 301.7 62.5 302.9 62.8 303.8 63.2 306.4 63.5 304.3 63.9 302.8 64.2 301.6 64.6 302.1 64.9 304.4 65.3 305.1 65.6 307.0 66.0 304.7 66.3 307.0 66.7 306.0 67.0 304.3 67.4 300.4 67.7 301.9 68.1 306.5 68.4 308.2 68.8 306.3 69.1 306.4 69.5 304.2 69.8 303.7 70.2 303.8 70.5 306.6 70.9 305.8 71.2 304.3 71.6 304.2 71.9 305.8 72.3 305.2 72.6 303.8 73.0 307.8 73.3 305.8 73.7 305.2 74.0 307.8 74.4 306.9 74.7 304.6 75.1 304.6 75.4 301.7 75.8 301.0 76.1 299.4 76.5 304.2 76.8 300.4 77.2 303.5 77.5 301.4 77.9 300.8 78.2 302.5 78.6 303.8 78.9 305.2 79.3 307.1 79.6 304.9 80.0 304.7 80.3 302.6 80.7 304.3 81.0 303.5 81.4 302.1 81.7 302.6 82.1 302.9 82.4 303.5 82.8 303.6 83.1 301.8 83.5 301.5 83.8 303.2 84.2 299.2 84.5 301.0 84.9 303.7 85.2 296.7 85.6 299.1 85.9 301.4 86.3 298.8 86.6 303.8 87.0 296.7 87.3 302.3 87.7 303.7 88.0 301.8 88.4 299.4 88.7 299.4 89.1 297.8 89.4 299.7 89.8 296.9 90.1 298.2 90.5 300.1 90.8 296.7 91.2 297.4 91.5 298.1 91.9 296.2 92.2 300.1 92.6 298.6 92.9 295.1 93.3 296.7 93.6 295.8 94.0 295.8 94.3 296.7 94.7 295.9 95.0 298.0 95.4 295.8 95.7 297.7 96.1 296.4 96.4 296.8 96.8 294.1 97.1 292.9 97.5 292.0 97.8 294.9 98.2 296.4 98.5 298.0 98.9 295.8 99.2 292.5 99.6 290.8 99.9 291.2 100.3 290.9 100.6 293.1 101.0 291.7 101.3 287.7 101.7 287.9 102.0 291.4 102.4 289.7 102.7 288.6 103.1 290.3 103.4 287.6 103.8 286.9 104.1 285.8 104.5 283.7 104.8 287.6 105.2 284.7 105.5 284.8 105.9 285.1 106.2 287.4 106.6 286.2 106.9 285.1 107.3 282.2 107.6 283.8 108.0 282.3 108.3 285.0 108.7 285.5 109.0 285.4 109.4 288.4 109.7 286.0 110.1 285.0 110.4 283.7 110.8 282.9 111.1 284.7 111.5 284.1 111.8 280.1 112.2 283.6 112.5 284.5 112.9 286.2 113.2 286.2 113.6 283.8 113.9 285.1 114.3 290.4 114.6 287.6 115.0 284.1 115.3 286.2 115.7 284.5 116.0 280.6 116.4 278.8 116.7 279.9 117.1 282.6 117.4 281.1 117.8 278.5 118.1 275.4 118.5 267.9 118.8 253.0 119.2 237.0 119.5 216.0 119.9 196.8 120.2 186.7 120.6 189.6 120.9 204.2 121.3 223.8 121.6 244.4 122.0 261.9 122.3 267.5 122.7 271.1 123.0 277.2 123.4 280.2 123.7 280.6 124.1 279.3 124.4 283.0 124.8 281.1 125.1 280.6 125.5 282.5 125.8 284.8 126.2 287.1 126.5 287.6 126.9 287.2 127.2 289.0 127.6 288.5 127.9 289.3 128.3 285.5 128.6 285.6 129.0 289.7 129.3 287.2 129.7 288.9 130.0 289.9 130.4 289.5 130.7 290.4 131.1 292.7 131.4 287.3 131.8 293.2 132.1 296.7 132.5 292.9 132.8 292.4 133.2 294.5 133.5 295.9 133.9 291.1 134.2 292.4 134.6 292.9 134.9 294.4 135.3 294.4 135.6 295.1 136.0 293.7 136.3 294.3 136.7 293.5 137.0 293.9 137.4 295.4 137.7 295.7 138.1 295.3 138.4 300.1 138.8 297.8 139.1 296.1 139.5 300.1 139.8 298.4 140.2 300.2 140.5 300.1 140.9 300.7 141.2 300.7 141.6 299.8 141.9 301.9 142.3 304.6 142.6 298.2 143.0 301.4 143.3 302.7 143.7 300.0 144.0 300.4 144.4 306.4 144.7 304.0 145.1 307.1 145.4 304.9 145.8 303.5 146.1 304.2 146.5 304.9 146.8 305.7 147.2 304.4 147.5 303.5 147.9 303.9 148.2 306.1 148.6 304.7 148.9 301.0 149.3 301.4 149.6 303.1 150.0 301.7 150.3 301.5 150.7 300.8 151.0 302.3 151.4 304.3 151.7 305.4 152.1 304.7 152.4 307.6 152.8 305.7 153.1 310.5 153.5 307.5 153.8 305.3 154.2 302.3 154.5 298.6 154.9 303.3 155.2 306.1 155.6 308.5 155.9 304.3 156.3 308.8 156.6 306.5 157.0 306.4 157.3 301.6 157.7 305.6 158.0 306.5 158.4 308.3 158.7 307.2 159.1 305.6 159.4 309.3 159.8 309.9 160.1 309.9 160.5 310.9 160.8 311.0 161.2 308.4 161.5 305.4 161.9 306.1 162.2 311.5 162.6 311.3 162.9 309.8 163.3 308.8 163.6 309.7 164.0 309.9 164.3 309.2 164.7 309.8 165.0 314.7 165.4 311.9 165.7 309.3 166.1 307.9 166.4 309.6 166.8 312.9 167.1 313.4 167.5 311.7 167.8 311.8 168.2 311.1 168.5 310.5 168.9 314.7 169.2 315.0 169.6 317.6 169.9 312.4 170.3 312.9 170.6 314.8 171.0 312.7 171.3 310.3 171.7 311.2 172.0 313.8 172.4 314.7 172.7 314.5 173.1 316.6 173.4 316.9 173.8 315.6 174.1 314.7 174.5 314.5 174.8 316.3 175.2 317.2 175.5 315.9 175.9 316.1 176.2 314.4 176.6 312.2 176.9 313.4 177.3 317.1 177.6 317.9 178.0 319.5 178.3 317.4 178.7 318.6 179.0 319.9 179.4 318.9 179.7 315.8 180.1 316.2 180.4 316.7 180.8 315.3 181.1 318.1 181.5 319.3 181.8 317.7 182.2 321.1 182.5 317.8 182.9 317.1 183.2 316.9 183.6 316.6 183.9 318.6 184.3 319.0 184.6 321.8 185.0 320.5 185.3 319.7 185.7 317.7 186.0 315.7 186.4 317.6 186.7 317.5 187.1 320.5 187.4 320.1 187.8 322.8 188.1 321.8 188.5 321.4 188.8 320.3 189.2 320.3 189.5 321.4 189.9 321.6 190.2 319.0 190.6 321.8 190.9 325.5 191.3 321.0 191.6 319.4 192.0 318.3 192.3 317.8 192.7 322.4 193.0 321.5 193.4 322.2 193.7 325.8 194.1 326.5 194.4 320.9 194.8 323.2 195.1 323.2 195.5 322.7 195.8 322.7 196.2 322.5 196.5 325.2 196.9 323.9 197.2 323.5 197.6 325.1 197.9 324.7 198.3 323.7 198.6 324.0 199.0 326.3 199.3 324.3 199.7 322.3 200.0 320.8 200.4 321.3 200.7 320.7 201.1 322.8 201.4 322.7 201.8 319.1 202.1 322.6 202.5 324.6 202.8 323.5 203.2 322.0 203.5 325.2 203.9 322.1 204.2 320.3 204.6 320.9 204.9 323.5 205.3 326.1 205.6 326.5 206.0 324.2 206.3 321.3 206.7 321.7 207.0 321.8 207.4 322.5 207.7 320.5 208.1 323.9 208.4 325.5 208.8 324.4 209.1 324.8 209.5 322.1 209.8 320.9 210.2 323.1 210.5 327.1 210.9 327.0 211.2 324.8 211.6 326.9 211.9 325.5 212.3 328.1 212.6 326.5 213.0 324.9 213.3 326.4 213.7 323.8 214.0 322.7 214.4 322.4 214.7 325.6 215.1 325.8 215.4 325.5 215.8 325.8 216.1 328.6 216.5 325.6 216.8 325.2 217.2 329.1 217.5 330.0 217.9 327.1 218.2 323.0 218.6 325.0 218.9 327.8 219.3 327.8 219.6 329.4 220.0 325.2 220.3 327.5 220.7 326.7 221.0 329.5 221.4 328.1 221.7 329.0 222.1 325.9 222.4 323.8 222.8 324.3 223.1 325.3 223.5 325.7 223.8 330.1 224.2 330.9 224.5 328.3 224.9 325.7 225.2 326.7 225.6 326.9 225.9 330.5 226.3 329.3 226.6 328.8 227.0 326.5 227.3 323.4 227.7 325.1 228.0 325.6 228.4 328.4 228.7 328.2 229.1 326.5 229.4 327.8 229.8 330.9 230.1 326.8 230.5 326.2 230.8 327.5 231.2 327.0 231.5 327.9 231.9 330.6 232.2 332.0 232.6 326.4 232.9 328.6 233.3 329.6 233.6 329.5 234.0 329.4 234.3 329.8 234.7 331.9 235.0 329.9 235.4 330.2 235.7 330.8 236.1 331.1 236.4 331.2 236.8 333.2 237.1 331.9 237.5 331.8 237.8 331.2 238.2 329.3 238.5 329.3 238.9 329.5 239.2 331.6 239.6 330.2 239.9 329.7 240.3 332.2 240.6 332.4 241.0 329.4 241.3 334.6 241.7 332.7 242.0 332.2 242.4 334.1 242.7 332.3 243.1 331.7 243.4 335.6 243.8 330.7 244.1 331.6 244.5 333.1 244.8 330.0 245.2 331.3 245.5 333.6 245.9 336.3 246.2 331.0 246.6 331.5 246.9 333.0 247.3 331.6 247.6 329.4 248.0 331.9 248.3 332.1 248.7 333.0 249.0 334.4 249.4 334.1 249.7 332.8 250.1 331.7 250.4 329.2 250.8 330.6 251.1 331.4 251.5 330.4 251.8 330.6 252.2 329.8 252.5 334.2 252.9 335.2 253.2 330.6 253.6 330.6 253.9 330.1 254.3 332.3 254.6 331.0 255.0 329.6 255.3 328.8 255.7 328.8 256.0 327.3 256.4 329.4 256.7 327.8 257.1 329.4 257.4 329.5 257.8 330.7 258.1 329.4 258.5 330.2 258.8 327.4 259.2 329.3 259.5 328.5 259.9 329.0 260.2 329.4 260.6 329.9 260.9 325.5 261.3 328.2 261.6 326.9 262.0 330.2 262.3 325.6 262.7 326.0 263.0 326.6 263.4 331.8 263.7 328.0 264.1 329.4 264.4 328.3 264.8 326.2 265.1 329.1 265.5 331.4 265.8 330.7 266.2 332.1 266.5 330.2 266.9 330.3 267.2 330.0 267.6 332.1 267.9 334.9 268.3 332.5 268.6 331.2 269.0 329.6 269.3 330.0 269.7 333.3 270.0 329.3 270.4 329.0 270.7 330.6 271.1 331.4 271.4 334.2 271.8 327.8 272.1 331.6 272.5 332.8 272.8 329.5 273.2 330.2 273.5 333.2 273.9 335.0 274.2 330.2 274.6 328.9 274.9 334.0 275.3 335.4 275.6 331.2 276.0 328.3 276.3 334.2 276.7 333.0 277.0 334.5 277.4 332.7 277.7 331.5 278.1 332.1 278.4 336.0 278.8 335.2 279.1 328.6 279.5 330.7 279.8 335.8 280.2 332.3 280.5 330.0 280.9 332.3 281.2 332.7 281.6 332.6 281.9 331.9 282.3 332.1 282.6 332.2 283.0 333.2 283.3 331.5 283.7 332.2 284.0 333.3 284.4 335.9 284.7 334.5 285.1 333.4 285.4 334.4 285.8 334.7 286.1 335.8 286.5 335.4 286.8 337.6 287.2 336.6 287.5 333.5 287.9 332.7 288.2 335.0 288.6 334.5 288.9 332.5 289.3 329.3 289.6 329.0 290.0 333.3 290.3 335.1 290.7 334.5 291.0 331.3 291.4 334.4 291.7 332.6 292.1 333.8 292.4 333.7 292.8 331.3 293.1 330.6 293.5 328.2 293.8 329.5 294.2 329.2 294.5 333.1 294.9 333.7 295.2 335.0 295.6 333.8 295.9 332.0 296.3 333.3 296.6 332.7 297.0 334.2 297.3 333.5 297.7 331.2 298.0 332.7 298.4 333.1 298.7 332.9 299.1 335.5 299.4 336.8 299.8 333.0 300.1 331.4 300.5 328.5 300.8 331.8 301.2 331.4 301.5 328.9 301.9 333.2 302.2 334.3 302.6 332.0 302.9 331.9 303.3 331.6 303.6 333.8 304.0 330.5 304.3 333.0 304.7 337.2 305.0 334.5 305.4 334.3 305.7 332.8 306.1 330.9 306.4 332.9 306.8 333.6 307.1 331.5 307.5 333.9 307.8 336.1 308.2 335.0 308.5 329.8 308.9 329.5 309.2 329.5 309.6 334.3 309.9 334.5 310.3 333.7 310.6 330.3 311.0 329.5 311.3 331.7 311.7 331.8 312.0 330.2 312.4 331.8 312.7 333.0 313.1 331.7 313.4 328.4 313.8 326.4 314.1 329.7 314.5 331.1 314.8 330.2 315.2 329.5 315.5 329.4 315.9 331.7 316.2 330.7 316.6 330.1 316.9 328.1 317.3 328.5 317.6 329.6 318.0 327.4 318.3 326.7 318.7 329.0 319.0 331.9 319.4 331.0 319.7 332.3 320.1 329.4 320.4 327.8 320.8 325.8 321.1 327.7 321.5 331.5 321.8 330.2 322.2 330.4 322.5 330.1 322.9 328.5 323.2 327.9 323.6 328.5 323.9 329.6 324.3 329.3 324.6 329.1 325.0 327.9 325.3 326.0 325.7 326.3 326.0 325.9 326.4 328.1 326.7 323.4 327.1 326.9 327.4 331.7 327.8 326.9 328.1 324.6 328.5 326.9 328.8 329.3 329.2 327.3 329.5 327.9 329.9 326.9 330.2 327.2 330.6 332.6 330.9 327.7 331.3 325.1 331.6 325.2 332.0 326.9 332.3 327.4 332.7 327.8 333.0 325.9 333.4 323.2 333.7 326.0 334.1 325.1 334.4 324.2 334.8 322.1 335.1 323.2 335.5 323.4 335.8 324.0 336.2 321.9 336.5 324.2 336.9 324.2 337.2 321.8 337.6 321.9 337.9 322.2 338.3 324.0 338.6 318.6 339.0 320.7 339.3 319.3 339.7 321.5 340.0 323.7 340.4 321.4 340.7 321.7 341.1 321.1 341.4 325.6 341.8 324.6 342.1 323.4 342.5 318.6 342.8 318.8 343.2 322.5 343.5 320.7 343.9 320.2 344.2 320.5 344.6 318.4 344.9 321.3 345.3 320.7 345.6 320.7 346.0 319.0 346.3 320.2 346.7 318.9 347.0 321.7 347.4 322.5 347.7 321.9 348.1 320.9 348.4 319.4 348.8 314.2 349.1 319.2 349.5 318.6 349.8 318.5 350.2 317.3 350.5 315.1 350.9 316.7 351.2 319.6 351.6 320.5 351.9 316.5 352.3 315.9 352.6 319.3 353.0 316.8 353.3 320.8 353.7 317.6 354.0 315.8 354.4 319.7 354.7 321.0 355.1 316.7 355.4 321.1 355.8 319.9 356.1 322.4 356.5 319.4 356.8 317.5 357.2 321.7 357.5 324.2 357.9 326.9 358.2 326.5 358.6 324.2 358.9 322.1 359.3 321.5 359.6 321.9 360.0 321.5 360.3 321.7 360.7 318.8 361.0 323.5 361.4 325.6 361.7 330.3 362.1 327.6 362.4 325.1 362.8 326.2 363.1 323.7 363.5 323.9 363.8 323.4 364.2 329.5 364.5 328.8 364.9 325.7 365.2 327.9 365.6 330.6 365.9 330.4 366.3 329.8 366.6 327.7 367.0 328.3 367.3 330.5 367.7 332.1 368.0 329.2 368.4 329.3 368.7 333.2 369.1 331.3 369.4 334.5 369.8 334.4 370.1 336.1 370.5 338.0 370.8 336.7 371.2 336.0 371.5 333.0 371.9 333.5 372.2 336.9 372.6 339.3 372.9 339.8 373.3 340.7 373.6 337.0 374.0 336.2 374.3 337.2 374.7 335.4 375.0 334.2 375.4 332.9 375.7 335.4 376.1 332.6 376.4 333.8 376.8 331.5 377.1 334.5 377.5 331.9 377.8 333.5 378.2 329.7 378.5 331.4 378.9 334.0 379.2 330.7 379.6 331.1 379.9 329.2 380.3 326.1 380.6 330.2 381.0 330.6 381.3 328.0 381.7 329.8 382.0 327.5 382.4 326.8 382.7 328.3 383.1 328.6 383.4 333.2 383.8 329.1 384.1 333.9 384.5 336.2 384.8 334.2 385.2 339.1 385.5 347.9 385.9 350.5 386.2 353.3 386.6 355.3 386.9 353.9 387.3 352.5 387.6 351.2 388.0 354.9 388.3 354.8 388.7 356.5 389.0 356.4 389.4 355.2 389.7 359.0 390.1 359.0 390.4 357.9 390.8 355.1 391.1 355.6 391.5 355.7 391.8 355.6 392.2 355.1 392.5 357.0 392.9 357.3 393.2 357.1 393.6 356.5 393.9 358.4 394.3 356.5 394.6 352.7 395.0 354.9 395.3 356.7 395.7 358.0 396.0 356.5 396.4 356.0 396.7 355.9 397.1 357.3 397.4 356.1 397.8 355.5 398.1 355.6 398.5 357.1 398.8 355.6 399.2 354.3 399.5 356.9 399.9 356.0 400.2 357.1 400.6 357.7 400.9 358.8 401.3 358.4 401.6 356.1 402.0 355.9 402.3 355.3 402.7 358.8 403.0 358.2 403.4 358.7 403.7 356.0 404.1 354.1 404.4 358.2 404.8 357.2 405.1 356.8 405.5 356.9 405.8 357.6 406.2 357.0 406.5 354.7 406.9 357.4 407.2 355.9 407.6 356.1 407.9 359.0 408.3 358.1 408.6 355.6 409.0 353.6 409.3 356.1 409.7 357.1 410.0 355.9 410.4 354.2 410.7 354.3 411.1 354.2 411.4 356.3 411.8 357.7 412.1 357.6 412.5 355.4 412.8 356.3 413.2 356.7 413.5 355.4 413.9 356.3 414.2 359.0 414.6 357.2 414.9 357.1 415.3 355.6 415.6 355.3 416.0 353.5 416.3 355.7 416.7 358.2 417.0 359.6 417.4 358.4 417.7 357.2 418.1 355.9 418.4 354.9 418.8 355.6 419.1 356.4 419.5 355.2 419.8 356.6 420.2 354.1 420.5 352.7 420.9 353.3 421.2 352.7 421.6 353.7 421.9 356.9 422.3 355.9 422.6 356.4 423.0 357.9 423.3 357.8 423.7 355.9 424.0 357.7 424.4 356.8 424.7 356.1 425.1 356.0 425.4 353.7 425.8 354.2 426.1 355.6 426.5 356.5 426.8 355.4 427.2 355.8 427.5 357.6 427.9 358.3 428.2 357.7 428.6 357.7 428.9 355.5 429.3 355.3 429.6 356.1 430.0 355.3 430.3 355.5 430.7 357.9 431.0 355.7 431.4 354.5 431.7 356.8 432.1 358.6 432.4 356.9 432.8 357.4 433.1 355.4 433.5 354.8 433.8 354.6 434.2 355.9 434.5 358.0 434.9 355.2 435.2 357.5 435.6 354.8 435.9 355.4 436.3 357.1 436.6 357.0 437.0 355.9 437.3 353.6 437.7 355.5 438.0 355.2 438.4 359.1 438.7 356.3 439.1 355.7 439.4 354.1 439.8 354.4 440.1 354.1 440.5 356.7 440.8 355.9 441.2 356.3 441.5 354.9 441.9 355.3 442.2 357.2 442.6 354.3 442.9 353.1 443.3 355.5 443.6 354.2 444.0 355.2 444.3 356.8 444.7 355.3 445.0 356.7 445.4 355.7 445.7 358.2 446.1 358.1 446.4 355.6 446.8 355.3 447.1 354.8 447.5 356.4 447.8 357.3 448.2 354.6 448.5 356.5 448.9 354.2 449.2 353.9 449.6 353.9 449.9 358.6 450.3 356.9 450.6 356.3 451.0 355.6 451.3 356.9 451.7 353.6 452.0 356.3 452.4 359.3 452.7 356.4 453.1 356.4 453.4 357.0 453.8 355.4 454.1 356.5 454.5 357.8 454.8 357.1 455.2 356.9 455.5 356.2 455.9 356.8 456.2 357.1 456.6 358.8 456.9 357.9 457.3 355.7 457.6 353.2 458.0 357.1 458.3 357.6 458.7 354.9 459.0 353.2 459.4 354.7 459.7 357.3 460.1 355.3 460.4 355.8 460.8 357.3 461.1 358.6 461.5 357.1 461.8 356.5 462.2 356.5 462.5 359.3 462.9 358.8 463.2 356.6 463.6 354.6 463.9 355.5 464.3 357.3 464.6 356.3 465.0 358.1 465.3 357.8 465.7 357.7 466.0 358.2 466.4 357.7 466.7 355.9 467.1 357.0 467.4 359.9 467.8 355.9 468.1 356.4 468.5 358.4 468.8 357.0 469.2 355.5 469.5 355.2 469.9 357.9 470.2 359.2 470.6 359.5 470.9 358.1 471.3 358.4 471.6 356.2 472.0 357.0 472.3 356.4 472.7 357.6 473.0 358.8 473.4 358.8 473.7 356.7 474.1 358.8 474.4 356.8 474.8 355.8 475.1 356.4 475.5 355.3 475.8 357.1 476.2 357.9 476.5 357.5 476.9 358.1 477.2 357.3 477.6 357.0 477.9 355.6 478.3 357.0 478.6 356.3 479.0 356.7 479.3 357.5 479.7 357.4 480.0 354.9 480.4 354.9 480.7 357.0 481.1 358.4 481.4 358.7 481.8 359.6 482.1 360.1 482.5 358.9 482.8 357.7 483.2 356.1 483.5 356.1 483.9 357.0 484.2 358.2 484.6 358.3 484.9 358.0 485.3 358.0 485.6 358.9 486.0 358.6 486.3 358.6 486.7 358.4 487.0 357.1 487.4 356.6 487.7 358.6 488.1 358.8 488.4 357.8 488.8 358.2 489.1 361.1 489.5 357.7 489.8 357.8 490.2 358.2 490.5 356.7 490.9 358.6 491.2 361.2 491.6 360.4 491.9 359.7 492.3 359.4 492.6 359.0 493.0 359.7 493.3 358.3 493.7 357.8 494.0 358.7 494.4 359.9 494.7 359.4 495.1 358.9 495.4 356.2 495.8 360.3 496.1 362.6 496.5 361.1 496.8 358.3 497.2 357.4 497.5 358.4 497.9 357.5 498.2 359.2 498.6 358.4 498.9 360.3 499.3 360.3 499.6 356.3 500.0 358.3 500.3 357.4 500.7 356.3 501.0 357.4 501.4 358.6 501.7 359.7 502.1 357.2 502.4 360.4 502.8 362.2 503.1 360.5 503.5 359.8 503.8 358.6 504.2 357.3 504.5 359.4 504.9 359.8 505.2 360.9 505.6 363.0 505.9 360.9 506.3 360.3 506.6 360.9 507.0 357.2 507.3 356.8 507.7 357.9 508.0 358.2 508.4 359.7 508.7 359.3 509.1 361.9 509.4 362.0 509.8 360.5 510.1 359.0 510.5 360.1 510.8 360.1 511.2 358.0 511.5 359.5 511.9 360.3 512.2 360.2 512.6 361.9 512.9 361.1 513.3 358.4 513.6 358.9 514.0 358.2 514.3 359.5 514.7 358.5 515.0 360.4 515.4 360.4 515.7 360.7 516.1 358.9 516.4 357.7 516.8 361.3 517.1 360.0 517.5 361.3 517.8 360.5 518.2 360.9 518.5 362.2 518.9 360.8 519.2 360.9 519.6 357.9 519.9 360.0 520.3 359.2 520.6 359.0 521.0 359.4 521.3 360.3 521.7 361.2 522.0 357.2 522.4 358.6 522.7 358.6 523.1 360.6 523.4 359.2 523.8 359.7 524.1 359.0 524.5 360.4 524.8 360.8 525.2 359.0 525.5 358.8 525.9 357.3 526.2 359.5 526.6 360.4 526.9 359.0 527.3 360.0 527.6 356.0 528.0 355.5 528.3 356.5 528.7 358.0 529.0 359.0 529.4 359.0 529.7 359.2 530.1 360.0 530.4 358.3 530.8 356.8 531.1 357.5 531.5 361.0 531.8 356.3 532.2 358.5 532.5 361.2 532.9 359.9 533.2 357.9 533.6 359.0 533.9 360.5 534.3 360.6 534.6 358.2 535.0 359.8 535.3 359.8 535.7 360.9 536.0 361.0 536.4 358.3 536.7 356.7 537.1 359.4 537.4 361.4" stroke="#088080"/>
<path d="M49.5 343.5L49.9 343.6 50.2 345.3 50.6 341.8 50.9 342.8 51.3 341.5 51.6 341.8 52.0 342.3 52.3 343.4 52.7 340.5 53.0 339.9 53.4 339.0 53.7 341.1 54.1 340.5 54.4 340.9 54.8 339.2 55.1 340.0 55.5 341.5 55.8 340.4 56.2 340.9 56.5 340.5 56.9 338.8 57.2 337.4 57.6 340.1 57.9 339.7 58.3 339.5 58.6 335.7 59.0 335.0 59.3 334.7 59.7 336.6 60.0 339.3 60.4 338.9 60.7 338.0 61.1 338.1 61.4 338.6 61.8 337.5 62.1 338.0 62.5 337.2 62.8 334.4 63.2 336.6 63.5 338.9 63.9 337.1 64.2 336.7 64.6 336.1 64.9 336.5 65.3 338.2 65.6 336.5 66.0 334.4 66.3 332.1 66.7 334.3 67.0 333.1 67.4 333.6 67.7 337.0 68.1 336.7 68.4 333.9 68.8 336.6 69.1 336.4 69.5 334.9 69.8 335.8 70.2 333.0 70.5 332.7 70.9 332.5 71.2 333.3 71.6 335.3 71.9 332.8 72.3 332.3 72.6 332.8 73.0 334.1 73.3 333.9 73.7 334.7 74.0 332.6 74.4 331.5 74.7 332.3 75.1 332.8 75.4 331.8 75.8 333.4 76.1 334.9 76.5 332.1 76.8 332.3 77.2 333.4 77.5 330.9 77.9 329.7 78.2 329.5 78.6 331.2 78.9 331.3 79.3 330.3 79.6 330.4 80.0 331.8 80.3 330.7 80.7 327.7 81.0 328.7 81.4 329.2 81.7 329.5 82.1 328.0 82.4 327.0 82.8 326.5 83.1 325.1 83.5 326.6 83.8 326.4 84.2 327.0 84.5 325.3 84.9 325.3 85.2 324.5 85.6 324.5 85.9 326.4 86.3 325.4 86.6 325.7 87.0 324.0 87.3 324.5 87.7 322.7 88.0 323.6 88.4 324.1 88.7 325.3 89.1 324.8 89.4 324.3 89.8 325.2 90.1 324.5 90.5 324.7 90.8 324.6 91.2 323.3 91.5 322.7 91.9 323.0 92.2 322.2 92.6 323.0 92.9 323.9 93.3 323.1 93.6 320.9 94.0 319.5 94.3 320.6 94.7 321.0 95.0 322.0 95.4 320.3 95.7 320.2 96.1 320.9 96.4 319.5 96.8 319.9 97.1 322.2 97.5 322.1 97.8 320.6 98.2 319.3 98.5 317.9 98.9 319.2 99.2 318.9 99.6 318.6 99.9 317.7 100.3 318.0 100.6 317.9 101.0 318.7 101.3 319.9 101.7 318.1 102.0 315.2 102.4 315.3 102.7 314.8 103.1 316.0 103.4 317.9 103.8 317.7 104.1 316.6 104.5 317.2 104.8 315.9 105.2 314.8 105.5 314.9 105.9 316.4 106.2 318.9 106.6 316.7 106.9 319.5 107.3 320.0 107.6 318.2 108.0 317.9 108.3 317.5 108.7 318.4 109.0 319.4 109.4 319.2 109.7 320.5 110.1 321.0 110.4 320.0 110.8 319.8 111.1 319.6 111.5 319.8 111.8 318.5 112.2 320.3 112.5 320.3 112.9 319.8 113.2 322.8 113.6 319.8 113.9 319.5 114.3 320.6 114.6 318.5 115.0 319.4 115.3 319.1 115.7 320.0 116.0 321.5 116.4 322.7 116.7 323.9 117.1 324.0 117.4 324.4 117.8 323.5 118.1 322.5 118.5 324.0 118.8 322.3 119.2 322.4 119.5 325.1 119.9 324.6 120.2 323.9 120.6 324.5 120.9 324.2 121.3 321.7 121.6 322.4 122.0 321.7 122.3 323.0 122.7 322.9 123.0 325.1 123.4 324.2 123.7 322.5 124.1 322.9 124.4 321.9 124.8 323.4 125.1 324.4 125.5 323.7 125.8 321.3 126.2 323.2 126.5 325.0 126.9 325.5 127.2 326.1 127.6 323.9 127.9 325.6 128.3 325.1 128.6 326.3 129.0 327.2 129.3 327.6 129.7 326.4 130.0 326.9 130.4 325.5 130.7 325.6 131.1 328.1 131.4 327.6 131.8 325.8 132.1 326.8 132.5 328.7 132.8 331.1 133.2 330.9 133.5 329.9 133.9 327.1 134.2 328.9 134.6 330.3 134.9 330.6 135.3 330.6 135.6 330.6 136.0 333.2 136.3 333.2 136.7 331.1 137.0 330.6 137.4 333.9 137.7 332.1 138.1 334.2 138.4 335.1 138.8 332.1 139.1 332.9 139.5 332.9 139.8 334.0 140.2 334.6 140.5 336.4 140.9 335.1 141.2 334.4 141.6 335.4 141.9 334.0 142.3 334.3 142.6 337.0 143.0 333.9 143.3 333.7 143.7 334.3 144.0 332.8 144.4 332.0 144.7 335.4 145.1 334.0 145.4 333.9 145.8 334.0 146.1 333.2 146.5 333.3 146.8 335.6 147.2 338.4 147.5 336.9 147.9 335.8 148.2 333.2 148.6 334.2 148.9 333.7 149.3 335.7 149.6 335.0 150.0 335.0 150.3 334.8 150.7 333.9 151.0 333.2 151.4 335.2 151.7 333.3 152.1 333.3 152.4 334.4 152.8 334.5 153.1 335.9 153.5 337.1 153.8 336.3 154.2 336.1 154.5 336.1 154.9 336.5 155.2 333.9 155.6 335.8 155.9 334.7 156.3 334.3 156.6 335.9 157.0 336.1 157.3 337.5 157.7 337.6 158.0 333.9 158.4 336.6 158.7 339.7 159.1 339.1 159.4 339.2 159.8 337.3 160.1 335.0 160.5 335.6 160.8 338.3 161.2 338.7 161.5 336.8 161.9 337.2 162.2 337.5 162.6 335.5 162.9 337.5 163.3 340.7 163.6 341.5 164.0 339.3 164.3 340.6 164.7 338.1 165.0 336.7 165.4 335.7 165.7 339.3 166.1 339.3 166.4 342.1 166.8 340.3 167.1 339.0 167.5 337.4 167.8 340.8 168.2 339.4 168.5 338.6 168.9 336.9 169.2 340.6 169.6 341.2 169.9 339.4 170.3 340.0 170.6 340.8 171.0 341.5 171.3 341.0 171.7 342.5 172.0 340.3 172.4 339.3 172.7 338.9 173.1 336.7 173.4 339.0 173.8 341.7 174.1 341.0 174.5 339.7 174.8 340.4 175.2 338.1 175.5 340.0 175.9 341.7 176.2 341.8 176.6 340.4 176.9 342.5 177.3 343.7 177.6 341.3 178.0 341.6 178.3 338.8 178.7 338.4 179.0 341.6 179.4 341.7 179.7 341.6 180.1 340.7 180.4 341.2 180.8 343.1 181.1 344.1 181.5 341.5 181.8 339.9 182.2 343.3 182.5 343.3 182.9 343.1 183.2 343.2 183.6 345.3 183.9 343.1 184.3 342.4 184.6 339.8 185.0 340.9 185.3 341.3 185.7 342.4 186.0 342.8 186.4 342.2 186.7 344.5 187.1 341.7 187.4 342.0 187.8 342.7 188.1 341.5 188.5 343.6 188.8 344.0 189.2 343.5 189.5 345.7 189.9 344.0 190.2 343.5 190.6 341.7 190.9 340.8 191.3 342.1 191.6 342.9 192.0 343.2 192.3 343.9 192.7 340.5 193.0 341.2 193.4 341.6 193.7 345.1 194.1 343.6 194.4 343.0 194.8 342.9 195.1 345.0 195.5 344.1 195.8 344.0 196.2 342.2 196.5 345.6 196.9 345.6 197.2 345.9 197.6 346.5 197.9 344.9 198.3 344.8 198.6 346.0 199.0 345.7 199.3 344.9 199.7 345.0 200.0 344.8 200.4 346.3 200.7 346.8 201.1 346.2 201.4 347.5 201.8 343.9 202.1 345.3 202.5 347.8 202.8 345.2 203.2 343.9 203.5 347.4 203.9 346.7 204.2 344.8 204.6 346.4 204.9 344.6 205.3 344.0 205.6 345.5 206.0 345.3 206.3 344.6 206.7 345.3 207.0 345.0 207.4 346.3 207.7 346.8 208.1 347.5 208.4 345.9 208.8 344.5 209.1 344.6 209.5 346.6 209.8 349.1 210.2 348.3 210.5 346.6 210.9 347.8 211.2 346.1 211.6 348.0 211.9 347.1 212.3 348.2 212.6 348.2 213.0 347.1 213.3 347.3 213.7 345.9 214.0 347.2 214.4 349.9 214.7 353.3 215.1 349.5 215.4 347.5 215.8 346.4 216.1 348.1 216.5 345.4 216.8 346.1 217.2 347.5 217.5 346.6 217.9 349.7 218.2 349.4 218.6 347.1 218.9 346.5 219.3 345.5 219.6 345.7 220.0 348.3 220.3 349.0 220.7 348.7 221.0 348.4 221.4 347.6 221.7 348.1 222.1 346.4 222.4 348.4 222.8 350.8 223.1 350.6 223.5 348.3 223.8 348.5 224.2 351.1 224.5 351.3 224.9 347.4 225.2 348.2 225.6 349.7 225.9 350.7 226.3 348.8 226.6 350.0 227.0 350.0 227.3 352.8 227.7 350.9 228.0 349.6 228.4 349.7 228.7 351.4 229.1 350.9 229.4 348.8 229.8 349.7 230.1 348.2 230.5 348.4 230.8 347.9 231.2 347.9 231.5 348.7 231.9 349.0 232.2 351.0 232.6 351.5 232.9 350.0 233.3 349.1 233.6 350.6 234.0 347.5 234.3 347.6 234.7 351.1 235.0 351.9 235.4 352.0 235.7 350.2 236.1 348.7 236.4 349.8 236.8 351.1 237.1 349.6 237.5 349.2 237.8 348.4 238.2 349.1 238.5 351.7 238.9 351.3 239.2 349.1 239.6 348.9 239.9 350.0 240.3 351.2 240.6 349.5 241.0 349.8 241.3 347.7 241.7 348.9 242.0 351.5 242.4 352.1 242.7 349.6 243.1 350.0 243.4 351.9 243.8 350.8 244.1 350.6 244.5 351.9 244.8 352.1 245.2 353.1 245.5 352.6 245.9 350.9 246.2 351.1 246.6 351.0 246.9 349.4 247.3 350.1 247.6 352.1 248.0 350.0 248.3 352.5 248.7 352.2 249.0 351.7 249.4 352.4 249.7 352.8 250.1 353.3 250.4 351.4 250.8 351.1 251.1 351.7 251.5 354.3 251.8 353.1 252.2 350.5 252.5 350.6 252.9 350.5 253.2 351.4 253.6 352.4 253.9 354.1 254.3 349.9 254.6 352.4 255.0 352.1 255.3 350.5 255.7 350.8 256.0 350.6 256.4 351.5 256.7 352.2 257.1 349.9 257.4 352.4 257.8 351.5 258.1 353.2 258.5 352.5 258.8 353.1 259.2 352.6 259.5 352.8 259.9 351.3 260.2 350.2 260.6 352.0 260.9 352.9 261.3 353.6 261.6 349.0 262.0 350.6 262.3 352.2 262.7 349.8 263.0 351.2 263.4 354.4 263.7 353.5 264.1 351.0 264.4 353.3 264.8 353.6 265.1 352.9 265.5 352.2 265.8 351.7 266.2 350.3 266.5 350.8 266.9 352.4 267.2 352.5 267.6 354.0 267.9 351.1 268.3 348.3 268.6 350.7 269.0 352.1 269.3 352.4 269.7 351.8 270.0 351.2 270.4 353.4 270.7 351.6 271.1 352.6 271.4 351.4 271.8 350.7 272.1 352.8 272.5 348.8 272.8 350.3 273.2 352.3 273.5 352.0 273.9 353.0 274.2 352.1 274.6 352.2 274.9 354.9 275.3 352.5 275.6 351.7 276.0 350.6 276.3 351.2 276.7 353.1 277.0 353.3 277.4 352.3 277.7 351.7 278.1 352.6 278.4 350.3 278.8 351.5 279.1 351.8 279.5 351.4 279.8 352.3 280.2 351.5 280.5 351.9 280.9 355.0 281.2 354.5 281.6 354.5 281.9 353.4 282.3 354.3 282.6 354.5 283.0 355.4 283.3 356.3 283.7 353.4 284.0 353.2 284.4 352.0 284.7 348.0 285.1 350.2 285.4 352.9 285.8 353.8 286.1 352.9 286.5 354.9 286.8 355.2 287.2 353.5 287.5 355.6 287.9 356.2 288.2 354.2 288.6 352.6 288.9 355.0 289.3 353.5 289.6 352.9 290.0 353.3 290.3 353.0 290.7 354.9 291.0 355.1 291.4 355.4 291.7 354.2 292.1 352.4 292.4 353.1 292.8 354.3 293.1 353.8 293.5 356.9 293.8 353.5 294.2 352.6 294.5 354.6 294.9 354.3 295.2 353.1 295.6 352.7 295.9 353.6 296.3 354.2 296.6 353.9 297.0 352.6 297.3 353.3 297.7 354.0 298.0 352.8 298.4 348.2 298.7 350.0 299.1 350.9 299.4 351.7 299.8 352.5 300.1 353.4 300.5 352.9 300.8 351.8 301.2 352.1 301.5 353.7 301.9 351.1 302.2 351.9 302.6 353.3 302.9 351.2 303.3 348.2 303.6 350.3 304.0 349.9 304.3 350.3 304.7 351.6 305.0 350.8 305.4 349.9 305.7 351.0 306.1 350.6 306.4 350.0 306.8 350.0 307.1 349.8 307.5 348.9 307.8 348.6 308.2 348.8 308.5 347.5 308.9 347.5 309.2 350.3 309.6 349.0 309.9 348.7 310.3 348.6 310.6 348.7 311.0 348.7 311.3 348.4 311.7 347.7 312.0 349.3 312.4 348.0 312.7 349.0 313.1 345.7 313.4 346.5 313.8 349.1 314.1 348.0 314.5 347.2 314.8 347.9 315.2 346.6 315.5 347.0 315.9 344.7 316.2 346.3 316.6 346.8 316.9 348.3 317.3 348.6 317.6 347.0 318.0 349.1 318.3 346.4 318.7 343.7 319.0 343.9 319.4 348.5 319.7 347.2 320.1 345.9 320.4 345.5 320.8 345.6 321.1 348.3 321.5 347.6 321.8 349.0 322.2 346.3 322.5 343.7 322.9 346.9 323.2 346.2 323.6 346.5 323.9 348.3 324.3 346.8 324.6 347.7 325.0 346.3 325.3 345.3 325.7 346.4 326.0 345.7 326.4 347.7 326.7 347.6 327.1 346.4 327.4 346.8 327.8 346.6 328.1 345.7 328.5 346.7 328.8 345.7 329.2 346.0 329.5 344.4 329.9 345.4 330.2 345.7 330.6 344.2 330.9 344.3 331.3 344.5 331.6 345.7 332.0 344.4 332.3 345.8 332.7 347.1 333.0 345.3 333.4 342.7 333.7 344.7 334.1 345.9 334.4 344.8 334.8 346.0 335.1 345.7 335.5 345.0 335.8 343.9 336.2 343.3 336.5 343.6 336.9 344.1 337.2 344.7 337.6 344.4 337.9 343.4 338.3 343.6 338.6 343.5 339.0 341.0 339.3 341.5 339.7 341.8 340.0 342.4 340.4 342.4 340.7 342.1 341.1 341.6 341.4 343.3 341.8 342.6 342.1 340.3 342.5 341.5 342.8 341.2 343.2 344.0 343.5 341.9 343.9 341.4 344.2 341.9 344.6 341.7 344.9 342.2 345.3 344.0 345.6 342.9 346.0 343.4 346.3 343.3 346.7 341.3 347.0 344.0 347.4 343.5 347.7 343.0 348.1 341.1 348.4 342.7 348.8 342.4 349.1 341.8 349.5 344.8 349.8 343.1 350.2 341.6 350.5 342.2 350.9 343.5 351.2 344.0 351.6 343.7 351.9 344.7 352.3 344.7 352.6 341.6 353.0 342.0 353.3 342.2 353.7 344.2 354.0 346.3 354.4 345.5 354.7 343.5 355.1 344.7 355.4 346.5 355.8 345.2 356.1 345.8 356.5 346.2 356.8 344.6 357.2 347.7 357.5 348.3 357.9 348.4 358.2 346.8 358.6 347.1 358.9 348.0 359.3 349.4 359.6 349.7 360.0 350.5 360.3 352.8 360.7 352.3 361.0 349.8 361.4 350.2 361.7 353.0 362.1 351.7 362.4 353.6 362.8 354.0 363.1 351.5 363.5 351.5 363.8 352.0 364.2 351.0 364.5 350.9 364.9 352.2 365.2 353.8 365.6 352.7 365.9 352.8 366.3 352.4 366.6 352.1 367.0 354.7 367.3 351.1 367.7 352.8 368.0 354.5 368.4 353.0 368.7 355.4 369.1 356.4 369.4 354.2 369.8 354.8 370.1 354.0 370.5 355.8 370.8 355.9 371.2 356.4 371.5 357.9 371.9 357.4 372.2 358.3 372.6 357.2 372.9 355.1 373.3 356.8 373.6 357.1 374.0 355.5 374.3 358.4 374.7 357.8 375.0 357.6 375.4 356.4 375.7 357.5 376.1 358.1 376.4 357.5 376.8 357.4 377.1 355.7 377.5 359.1 377.8 356.6 378.2 354.9 378.5 356.4 378.9 357.5 379.2 359.1 379.6 358.1 379.9 359.1 380.3 358.9 380.6 362.6 381.0 362.1 381.3 363.0 381.7 360.4 382.0 361.8 382.4 361.1 382.7 363.2 383.1 363.7 383.4 361.6 383.8 362.4 384.1 363.3 384.5 363.9 384.8 365.5 385.2 365.8 385.5 366.0 385.9 368.4 386.2 369.1 386.6 368.2 386.9 368.9 387.3 369.7 387.6 369.8 388.0 369.8 388.3 371.2 388.7 371.7 389.0 371.6 389.4 371.4 389.7 373.1 390.1 372.9 390.4 371.2 390.8 371.2 391.1 372.0 391.5 370.8 391.8 371.3 392.2 371.0 392.5 370.4 392.9 370.4 393.2 369.5 393.6 369.8 393.9 369.5 394.3 372.5 394.6 372.6 395.0 372.0 395.3 371.3 395.7 371.7 396.0 372.0 396.4 371.8 396.7 371.4 397.1 370.1 397.4 370.6 397.8 370.0 398.1 369.3 398.5 369.4 398.8 370.8 399.2 371.1 399.5 369.8 399.9 371.8 400.2 371.8 400.6 370.2 400.9 369.9 401.3 370.4 401.6 371.0 402.0 370.0 402.3 369.4 402.7 370.0 403.0 368.7 403.4 370.2 403.7 371.2 404.1 370.8 404.4 370.9 404.8 370.8 405.1 370.8 405.5 370.2 405.8 369.4 406.2 369.7 406.5 370.2 406.9 371.3 407.2 371.6 407.6 370.5 407.9 369.3 408.3 369.2 408.6 369.9 409.0 371.1 409.3 370.4 409.7 369.8 410.0 369.4 410.4 370.5 410.7 370.2 411.1 369.9 411.4 370.2 411.8 371.2 412.1 370.3 412.5 371.3 412.8 371.1 413.2 370.2 413.5 370.4 413.9 369.6 414.2 369.0 414.6 369.2 414.9 369.0 415.3 369.9 415.6 369.9 416.0 370.2 416.3 369.9 416.7 367.3 417.0 369.0 417.4 368.2 417.7 369.2 418.1 368.9 418.4 369.7 418.8 370.4 419.1 368.4 419.5 369.4 419.8 369.1 420.2 368.1 420.5 369.7 420.9 369.5 421.2 368.9 421.6 369.3 421.9 371.8 422.3 369.4 422.6 367.7 423.0 368.3 423.3 368.9 423.7 369.0 424.0 369.1 424.4 368.6 424.7 369.5 425.1 368.8 425.4 368.0 425.8 368.4 426.1 369.0 426.5 370.0 426.8 369.8 427.2 369.1 427.5 369.3 427.9 369.8 428.2 370.8 428.6 369.2 428.9 369.6 429.3 369.7 429.6 368.6 430.0 369.2 430.3 369.3 430.7 368.9 431.0 369.7 431.4 370.3 431.7 370.2 432.1 369.2 432.4 369.7 432.8 370.9 433.1 368.7 433.5 369.3 433.8 369.9 434.2 369.5 434.5 369.7 434.9 369.5 435.2 370.0 435.6 370.2 435.9 369.2 436.3 369.2 436.6 369.0 437.0 368.7 437.3 368.8 437.7 368.3 438.0 369.7 438.4 370.8 438.7 370.9 439.1 370.2 439.4 368.7 439.8 369.9 440.1 368.7 440.5 369.1 440.8 370.3 441.2 368.6 441.5 369.5 441.9 369.3 442.2 368.7 442.6 368.3 442.9 369.1 443.3 368.8 443.6 369.9 444.0 369.9 444.3 367.9 444.7 368.2 445.0 368.4 445.4 367.7 445.7 367.8 446.1 368.7 446.4 368.5 446.8 367.4 447.1 368.3 447.5 369.0 447.8 367.8 448.2 368.2 448.5 370.2 448.9 369.9 449.2 367.5 449.6 367.5 449.9 368.7 450.3 367.9 450.6 368.3 451.0 368.5 451.3 368.8 451.7 366.5 452.0 366.4 452.4 367.6 452.7 369.4 453.1 368.6 453.4 367.5 453.8 369.0 454.1 369.4 454.5 368.7 454.8 368.5 455.2 369.3 455.5 369.8 455.9 369.2 456.2 369.2 456.6 368.7 456.9 368.3 457.3 368.0 457.6 368.7 458.0 368.5 458.3 368.6 458.7 369.5 459.0 369.4 459.4 369.2 459.7 367.7 460.1 368.8 460.4 368.2 460.8 367.8 461.1 368.1 461.5 369.6 461.8 369.4 462.2 368.0 462.5 367.6 462.9 368.4 463.2 368.6 463.6 369.6 463.9 367.4 464.3 366.8 464.6 368.1 465.0 368.6 465.3 368.8 465.7 369.6 466.0 370.3 466.4 368.6 466.7 367.8 467.1 367.1 467.4 368.6 467.8 369.2 468.1 368.7 468.5 369.4 468.8 369.0 469.2 369.8 469.5 368.8 469.9 367.6 470.2 367.5 470.6 366.8 470.9 366.8 471.3 368.5 471.6 369.5 472.0 370.2 472.3 368.7 472.7 368.0 473.0 367.6 473.4 369.1 473.7 368.8 474.1 368.1 474.4 368.9 474.8 368.6 475.1 367.1 475.5 368.7 475.8 368.5 476.2 368.0 476.5 368.2 476.9 369.9 477.2 370.2 477.6 369.9 477.9 367.6 478.3 367.7 478.6 368.7 479.0 367.4 479.3 367.2 479.7 367.0 480.0 369.7 480.4 369.6 480.7 368.9 481.1 368.5 481.4 367.9 481.8 368.0 482.1 368.6 482.5 368.0 482.8 369.1 483.2 367.9 483.5 367.7 483.9 369.1 484.2 368.5 484.6 368.6 484.9 367.6 485.3 366.5 485.6 368.1 486.0 367.5 486.3 368.6 486.7 366.9 487.0 366.5 487.4 368.3 487.7 368.7 488.1 368.2 488.4 367.4 488.8 368.5 489.1 367.1 489.5 367.5 489.8 367.5 490.2 367.9 490.5 368.8 490.9 368.0 491.2 368.7 491.6 368.6 491.9 366.8 492.3 366.9 492.6 367.6 493.0 367.7 493.3 368.0 493.7 366.8 494.0 368.6 494.4 368.9 494.7 368.0 495.1 367.1 495.4 367.9 495.8 367.9 496.1 368.6 496.5 368.4 496.8 368.7 497.2 368.2 497.5 368.9 497.9 366.4 498.2 367.1 498.6 368.2 498.9 367.2 499.3 368.3 499.6 367.4 500.0 367.9 500.3 367.4 500.7 367.7 501.0 368.3 501.4 368.1 501.7 368.2 502.1 369.9 502.4 368.4 502.8 367.6 503.1 368.9 503.5 369.2 503.8 369.6 504.2 369.7 504.5 367.9 504.9 369.1 505.2 369.3 505.6 368.4 505.9 367.9 506.3 365.7 506.6 367.5 507.0 369.2 507.3 367.0 507.7 367.5 508.0 368.4 508.4 369.0 508.7 369.3 509.1 367.0 509.4 368.1 509.8 368.6 510.1 367.3 510.5 368.2 510.8 369.9 511.2 369.6 511.5 368.4 511.9 366.1 512.2 367.7 512.6 368.4 512.9 368.0 513.3 368.6 513.6 370.6 514.0 368.3 514.3 367.4 514.7 368.1 515.0 367.9 515.4 367.8 515.7 368.1 516.1 368.8 516.4 368.2 516.8 367.2 517.1 367.9 517.5 368.4 517.8 368.0 518.2 369.1 518.5 368.8 518.9 367.5 519.2 368.5 519.6 370.0 519.9 369.7 520.3 368.5 520.6 368.7 521.0 367.4 521.3 366.9 521.7 368.3 522.0 368.5 522.4 368.5 522.7 368.2 523.1 368.2 523.4 367.8 523.8 368.5 524.1 368.8 524.5 368.2 524.8 368.3 525.2 366.5 525.5 367.3 525.9 369.3 526.2 369.7 526.6 368.4 526.9 367.6 527.3 366.9 527.6 368.1 528.0 368.3 528.3 366.9 528.7 368.1 529.0 368.4 529.4 368.0 529.7 367.0 530.1 367.7 530.4 366.9 530.8 368.7 531.1 367.9 531.5 367.0 531.8 368.7 532.2 368.7 532.5 367.7 532.9 369.1 533.2 367.2 533.6 367.8 533.9 368.2 534.3 366.1 534.6 367.9 535.0 367.6 535.3 367.2 535.7 366.6 536.0 367.3 536.4 366.4 536.7 366.3 537.1 366.6 537.4 366.3" stroke="#ff8000"/>
</g>
<g stroke="#000" fill="none">
<path d="M48.5 401V9.5H538.8V401" stroke-width="2"/>
<line x1="48" y1="401.2" x2="539" y2="401.2" stroke-width="3.3" stroke-linecap="round"/>
<g stroke-width="3.2" stroke-linecap="round">
<path d="M81.2 402V409M211.9 402V409M342.5 402V409M473.2 402V409"/>
<path d="M146.5 402V405.2M277.2 402V405.2M407.8 402V405.2M538.8 402V405.2"/>
</g>
</g>
<g font-size="20" text-anchor="middle">
<text x="81.2" y="429.7">400</text>
<text x="211.8" y="429.7">800</text>
<text x="342.5" y="429.7">1200</text>
<text x="473.2" y="429.7">1600</text>
</g>
<text x="216.3" y="458" font-size="20.2">Raman shift (cm<tspan font-size="12.5" dx="0.6" dy="-9.5">&#8722;1</tspan><tspan dx="0.5" dy="9.5">)</tspan></text>
<text transform="translate(23.8 259.5) rotate(-90)" font-size="20.5">Intensity (a.u.)</text>
<path d="M390.8 91.3L400.9 89.1V93.5Z" fill="#000"/>
<line x1="400" y1="91.3" x2="410.4" y2="91.3" stroke="#000" stroke-width="1.2"/>
<text x="414.5" y="96" font-size="17">1332 cm<tspan font-size="9.6" dx="-0.2" dy="-7.6">&#8722;1</tspan></text>
<text class="b" x="480" y="166.5">0.1B-1</text>
<text class="b" x="480" y="230.6">0.1B-4</text>
<text class="b" x="480.5" y="347.3">0.4B-1</text>
<text class="b" x="480.5" y="390.3">0.4B-4</text>
</svg>
</body></html>
